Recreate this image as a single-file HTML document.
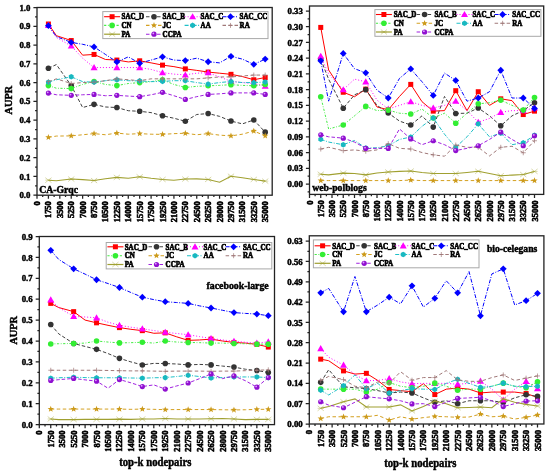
<!DOCTYPE html>
<html><head><meta charset="utf-8"><style>
html,body{margin:0;padding:0;background:#fff;width:550px;height:473px;overflow:hidden}
svg{display:block;will-change:transform}
text{font-family:"Liberation Serif", serif;font-weight:bold;fill:#000;stroke:#000;stroke-width:0.45px}
</style></head><body>
<svg width="550" height="473" viewBox="0 0 550 473">
<rect width="550" height="473" fill="#fff"/>
<polyline points="48.41,24.02 56.40,35.66 71.23,40.54 82.64,55.18 94.05,54.43 105.46,59.49 116.87,60.06 128.28,61.93 139.69,60.81 151.10,62.87 162.51,65.12 173.92,66.63 185.33,68.88 196.74,70.38 208.15,72.07 219.56,73.19 230.97,74.32 242.38,76.57 253.79,79.76 265.20,77.51" fill="none" stroke="#ff0000" stroke-width="1"/>
<rect x="45.91" y="21.52" width="5.00" height="5.00" fill="#ff0000"/>
<rect x="68.73" y="38.04" width="5.00" height="5.00" fill="#ff0000"/>
<rect x="91.55" y="51.93" width="5.00" height="5.00" fill="#ff0000"/>
<rect x="114.37" y="57.56" width="5.00" height="5.00" fill="#ff0000"/>
<rect x="137.19" y="58.31" width="5.00" height="5.00" fill="#ff0000"/>
<rect x="160.01" y="62.62" width="5.00" height="5.00" fill="#ff0000"/>
<rect x="182.83" y="66.38" width="5.00" height="5.00" fill="#ff0000"/>
<rect x="205.65" y="69.57" width="5.00" height="5.00" fill="#ff0000"/>
<rect x="228.47" y="71.82" width="5.00" height="5.00" fill="#ff0000"/>
<rect x="251.29" y="77.26" width="5.00" height="5.00" fill="#ff0000"/>
<rect x="262.70" y="75.01" width="5.00" height="5.00" fill="#ff0000"/>
<polyline points="48.41,68.31 56.40,64.56 71.23,85.58 82.64,107.54 94.05,104.35 105.46,106.98 116.87,107.54 128.28,110.73 139.69,111.30 151.10,112.61 162.51,115.80 173.92,118.24 185.33,121.25 196.74,114.49 208.15,113.55 219.56,116.37 230.97,121.06 242.38,123.87 253.79,119.93 265.20,132.13" fill="none" stroke="#404040" stroke-width="1" stroke-dasharray="3.5 2"/>
<circle cx="48.41" cy="68.31" r="2.80" fill="#333333"/>
<circle cx="71.23" cy="85.58" r="2.80" fill="#333333"/>
<circle cx="94.05" cy="104.35" r="2.80" fill="#333333"/>
<circle cx="116.87" cy="107.54" r="2.80" fill="#333333"/>
<circle cx="139.69" cy="111.30" r="2.80" fill="#333333"/>
<circle cx="162.51" cy="115.80" r="2.80" fill="#333333"/>
<circle cx="185.33" cy="121.25" r="2.80" fill="#333333"/>
<circle cx="208.15" cy="113.55" r="2.80" fill="#333333"/>
<circle cx="230.97" cy="121.06" r="2.80" fill="#333333"/>
<circle cx="253.79" cy="119.93" r="2.80" fill="#333333"/>
<circle cx="265.20" cy="132.13" r="2.80" fill="#333333"/>
<polyline points="48.41,25.33 56.40,37.53 71.23,45.98 82.64,58.18 94.05,67.56 105.46,67.56 116.87,67.56 128.28,67.56 139.69,67.56 151.10,69.44 162.51,72.63 173.92,74.13 185.33,74.88 196.74,73.19 208.15,72.63 219.56,76.95 230.97,81.27 242.38,82.58 253.79,83.52 265.20,86.15" fill="none" stroke="#ff00ff" stroke-width="1" stroke-dasharray="1 2"/>
<path d="M48.41 21.83L51.91 27.96L44.91 27.96Z" fill="#ff00ff"/>
<path d="M71.23 42.48L74.73 48.60L67.73 48.60Z" fill="#ff00ff"/>
<path d="M94.05 64.06L97.55 70.19L90.55 70.19Z" fill="#ff00ff"/>
<path d="M116.87 64.06L120.37 70.19L113.37 70.19Z" fill="#ff00ff"/>
<path d="M139.69 64.06L143.19 70.19L136.19 70.19Z" fill="#ff00ff"/>
<path d="M162.51 69.13L166.01 75.26L159.01 75.26Z" fill="#ff00ff"/>
<path d="M185.33 71.38L188.83 77.51L181.83 77.51Z" fill="#ff00ff"/>
<path d="M208.15 69.13L211.65 75.26L204.65 75.26Z" fill="#ff00ff"/>
<path d="M230.97 77.77L234.47 83.89L227.47 83.89Z" fill="#ff00ff"/>
<path d="M253.79 80.02L257.29 86.14L250.29 86.14Z" fill="#ff00ff"/>
<path d="M265.20 82.65L268.70 88.77L261.70 88.77Z" fill="#ff00ff"/>
<polyline points="48.41,25.71 56.40,36.59 71.23,42.41 82.64,44.29 94.05,46.92 105.46,54.43 116.87,61.93 128.28,56.87 139.69,63.25 151.10,60.06 162.51,56.87 173.92,60.06 185.33,60.62 196.74,58.18 208.15,61.75 219.56,62.87 230.97,56.30 242.38,59.12 253.79,64.37 265.20,59.12" fill="none" stroke="#0000ff" stroke-width="1" stroke-dasharray="4 1.5 1 1.5"/>
<path d="M48.41 22.31L51.81 25.71L48.41 29.11L45.01 25.71Z" fill="#0000ff"/>
<path d="M71.23 39.01L74.63 42.41L71.23 45.81L67.83 42.41Z" fill="#0000ff"/>
<path d="M94.05 43.52L97.45 46.92L94.05 50.32L90.65 46.92Z" fill="#0000ff"/>
<path d="M116.87 58.53L120.27 61.93L116.87 65.33L113.47 61.93Z" fill="#0000ff"/>
<path d="M139.69 59.85L143.09 63.25L139.69 66.65L136.29 63.25Z" fill="#0000ff"/>
<path d="M162.51 53.47L165.91 56.87L162.51 60.27L159.11 56.87Z" fill="#0000ff"/>
<path d="M185.33 57.22L188.73 60.62L185.33 64.02L181.93 60.62Z" fill="#0000ff"/>
<path d="M208.15 58.35L211.55 61.75L208.15 65.15L204.75 61.75Z" fill="#0000ff"/>
<path d="M230.97 52.90L234.37 56.30L230.97 59.70L227.57 56.30Z" fill="#0000ff"/>
<path d="M253.79 60.97L257.19 64.37L253.79 67.77L250.39 64.37Z" fill="#0000ff"/>
<path d="M265.20 55.72L268.60 59.12L265.20 62.52L261.80 59.12Z" fill="#0000ff"/>
<polyline points="48.41,85.58 56.40,88.21 71.23,88.59 82.64,84.46 94.05,81.45 105.46,84.46 116.87,85.58 128.28,83.52 139.69,82.58 151.10,81.64 162.51,79.76 173.92,84.46 185.33,87.46 196.74,86.33 208.15,85.77 219.56,85.40 230.97,84.64 242.38,85.40 253.79,85.77 265.20,84.46" fill="none" stroke="#44ee44" stroke-width="1" stroke-dasharray="2.2 1.6 0.8 1.6"/>
<circle cx="48.41" cy="85.58" r="2.80" fill="#33ee33"/>
<circle cx="71.23" cy="88.59" r="2.80" fill="#33ee33"/>
<circle cx="94.05" cy="81.45" r="2.80" fill="#33ee33"/>
<circle cx="116.87" cy="85.58" r="2.80" fill="#33ee33"/>
<circle cx="139.69" cy="82.58" r="2.80" fill="#33ee33"/>
<circle cx="162.51" cy="79.76" r="2.80" fill="#33ee33"/>
<circle cx="185.33" cy="87.46" r="2.80" fill="#33ee33"/>
<circle cx="208.15" cy="85.77" r="2.80" fill="#33ee33"/>
<circle cx="230.97" cy="84.64" r="2.80" fill="#33ee33"/>
<circle cx="253.79" cy="85.77" r="2.80" fill="#33ee33"/>
<circle cx="265.20" cy="84.46" r="2.80" fill="#33ee33"/>
<polyline points="48.41,137.39 56.40,136.07 71.23,135.89 82.64,134.76 94.05,133.63 105.46,134.76 116.87,133.07 128.28,134.20 139.69,133.63 151.10,134.20 162.51,134.39 173.92,133.63 185.33,133.26 196.74,134.76 208.15,133.63 219.56,135.14 230.97,135.89 242.38,134.20 253.79,131.01 265.20,135.89" fill="none" stroke="#d4a020" stroke-width="1" stroke-dasharray="3.5 2.5"/>
<polygon points="48.41,134.09 49.23,136.26 51.55,136.37 49.74,137.82 50.35,140.06 48.41,138.79 46.47,140.06 47.08,137.82 45.27,136.37 47.59,136.26" fill="#cc9a1a"/>
<polygon points="71.23,132.59 72.05,134.75 74.37,134.87 72.56,136.32 73.17,138.56 71.23,137.29 69.29,138.56 69.90,136.32 68.09,134.87 70.41,134.75" fill="#cc9a1a"/>
<polygon points="94.05,130.33 94.87,132.50 97.19,132.61 95.38,134.07 95.99,136.30 94.05,135.03 92.11,136.30 92.72,134.07 90.91,132.61 93.23,132.50" fill="#cc9a1a"/>
<polygon points="116.87,129.77 117.69,131.94 120.01,132.05 118.20,133.50 118.81,135.74 116.87,134.47 114.93,135.74 115.54,133.50 113.73,132.05 116.05,131.94" fill="#cc9a1a"/>
<polygon points="139.69,130.33 140.51,132.50 142.83,132.61 141.02,134.07 141.63,136.30 139.69,135.03 137.75,136.30 138.36,134.07 136.55,132.61 138.87,132.50" fill="#cc9a1a"/>
<polygon points="162.51,131.09 163.33,133.25 165.65,133.37 163.84,134.82 164.45,137.05 162.51,135.79 160.57,137.05 161.18,134.82 159.37,133.37 161.69,133.25" fill="#cc9a1a"/>
<polygon points="185.33,129.96 186.15,132.13 188.47,132.24 186.66,133.69 187.27,135.93 185.33,134.66 183.39,135.93 184.00,133.69 182.19,132.24 184.51,132.13" fill="#cc9a1a"/>
<polygon points="208.15,130.33 208.97,132.50 211.29,132.61 209.48,134.07 210.09,136.30 208.15,135.03 206.21,136.30 206.82,134.07 205.01,132.61 207.33,132.50" fill="#cc9a1a"/>
<polygon points="230.97,132.59 231.79,134.75 234.11,134.87 232.30,136.32 232.91,138.56 230.97,137.29 229.03,138.56 229.64,136.32 227.83,134.87 230.15,134.75" fill="#cc9a1a"/>
<polygon points="253.79,127.71 254.61,129.87 256.93,129.99 255.12,131.44 255.73,133.68 253.79,132.41 251.85,133.68 252.46,131.44 250.65,129.99 252.97,129.87" fill="#cc9a1a"/>
<polygon points="265.20,132.59 266.02,134.75 268.34,134.87 266.53,136.32 267.14,138.56 265.20,137.29 263.26,138.56 263.87,136.32 262.06,134.87 264.38,134.75" fill="#cc9a1a"/>
<polyline points="48.41,82.20 56.40,79.76 71.23,76.76 82.64,81.64 94.05,82.20 105.46,80.70 116.87,79.76 128.28,80.70 139.69,80.89 151.10,81.64 162.51,81.45 173.92,80.70 185.33,80.70 196.74,82.58 208.15,84.08 219.56,82.58 230.97,81.45 242.38,82.58 253.79,82.58 265.20,82.02" fill="none" stroke="#1ec0c8" stroke-width="1" stroke-dasharray="4 1.5 1 1.5"/>
<polygon points="48.41,79.40 50.83,80.80 50.83,83.60 48.41,85.00 45.99,83.60 45.99,80.80" fill="#18b8c0"/>
<polygon points="71.23,73.96 73.65,75.36 73.65,78.16 71.23,79.56 68.81,78.16 68.81,75.36" fill="#18b8c0"/>
<polygon points="94.05,79.40 96.47,80.80 96.47,83.60 94.05,85.00 91.63,83.60 91.63,80.80" fill="#18b8c0"/>
<polygon points="116.87,76.96 119.29,78.36 119.29,81.16 116.87,82.56 114.45,81.16 114.45,78.36" fill="#18b8c0"/>
<polygon points="139.69,78.09 142.11,79.49 142.11,82.29 139.69,83.69 137.27,82.29 137.27,79.49" fill="#18b8c0"/>
<polygon points="162.51,78.65 164.93,80.05 164.93,82.85 162.51,84.25 160.09,82.85 160.09,80.05" fill="#18b8c0"/>
<polygon points="185.33,77.90 187.75,79.30 187.75,82.10 185.33,83.50 182.91,82.10 182.91,79.30" fill="#18b8c0"/>
<polygon points="208.15,81.28 210.57,82.68 210.57,85.48 208.15,86.88 205.73,85.48 205.73,82.68" fill="#18b8c0"/>
<polygon points="230.97,78.65 233.39,80.05 233.39,82.85 230.97,84.25 228.55,82.85 228.55,80.05" fill="#18b8c0"/>
<polygon points="253.79,79.78 256.21,81.18 256.21,83.98 253.79,85.38 251.37,83.98 251.37,81.18" fill="#18b8c0"/>
<polygon points="265.20,79.22 267.62,80.62 267.62,83.42 265.20,84.82 262.78,83.42 262.78,80.62" fill="#18b8c0"/>
<polyline points="48.41,81.64 56.40,78.83 71.23,83.52 82.64,82.58 94.05,82.20 105.46,80.70 116.87,78.83 128.28,79.76 139.69,80.70 151.10,78.83 162.51,78.83 173.92,78.83 185.33,78.83 196.74,78.83 208.15,77.89 219.56,76.95 230.97,76.95 242.38,76.01 253.79,75.07 265.20,75.07" fill="none" stroke="#a07878" stroke-width="1" stroke-dasharray="3.5 2.5"/>
<path d="M45.91 81.64H50.91M48.41 79.14V84.14" stroke="#a07878" stroke-width="0.7" fill="none"/>
<path d="M68.73 83.52H73.73M71.23 81.02V86.02" stroke="#a07878" stroke-width="0.7" fill="none"/>
<path d="M91.55 82.20H96.55M94.05 79.70V84.70" stroke="#a07878" stroke-width="0.7" fill="none"/>
<path d="M114.37 78.83H119.37M116.87 76.33V81.33" stroke="#a07878" stroke-width="0.7" fill="none"/>
<path d="M137.19 80.70H142.19M139.69 78.20V83.20" stroke="#a07878" stroke-width="0.7" fill="none"/>
<path d="M160.01 78.83H165.01M162.51 76.33V81.33" stroke="#a07878" stroke-width="0.7" fill="none"/>
<path d="M182.83 78.83H187.83M185.33 76.33V81.33" stroke="#a07878" stroke-width="0.7" fill="none"/>
<path d="M205.65 77.89H210.65M208.15 75.39V80.39" stroke="#a07878" stroke-width="0.7" fill="none"/>
<path d="M228.47 76.95H233.47M230.97 74.45V79.45" stroke="#a07878" stroke-width="0.7" fill="none"/>
<path d="M251.29 75.07H256.29M253.79 72.57V77.57" stroke="#a07878" stroke-width="0.7" fill="none"/>
<path d="M262.70 75.07H267.70M265.20 72.57V77.57" stroke="#a07878" stroke-width="0.7" fill="none"/>
<polyline points="48.41,180.18 56.40,180.75 71.23,179.06 82.64,179.62 94.05,180.56 105.46,178.68 116.87,177.37 128.28,178.31 139.69,176.81 151.10,178.31 162.51,179.43 173.92,180.18 185.33,179.06 196.74,178.87 208.15,179.43 219.56,182.25 230.97,176.24 242.38,177.74 253.79,179.43 265.20,181.12" fill="none" stroke="#a0a030" stroke-width="1.1"/>
<path d="M45.31 177.70L51.51 182.66M45.31 182.66L51.51 177.70M45.31 180.18H51.51" stroke="#a0a030" stroke-width="0.6" fill="none" opacity="0.7"/>
<path d="M68.13 176.58L74.33 181.54M68.13 181.54L74.33 176.58M68.13 179.06H74.33" stroke="#a0a030" stroke-width="0.6" fill="none" opacity="0.7"/>
<path d="M90.95 178.08L97.15 183.04M90.95 183.04L97.15 178.08M90.95 180.56H97.15" stroke="#a0a030" stroke-width="0.6" fill="none" opacity="0.7"/>
<path d="M113.77 174.89L119.97 179.85M113.77 179.85L119.97 174.89M113.77 177.37H119.97" stroke="#a0a030" stroke-width="0.6" fill="none" opacity="0.7"/>
<path d="M136.59 174.33L142.79 179.29M136.59 179.29L142.79 174.33M136.59 176.81H142.79" stroke="#a0a030" stroke-width="0.6" fill="none" opacity="0.7"/>
<path d="M159.41 176.95L165.61 181.91M159.41 181.91L165.61 176.95M159.41 179.43H165.61" stroke="#a0a030" stroke-width="0.6" fill="none" opacity="0.7"/>
<path d="M182.23 176.58L188.43 181.54M182.23 181.54L188.43 176.58M182.23 179.06H188.43" stroke="#a0a030" stroke-width="0.6" fill="none" opacity="0.7"/>
<path d="M205.05 176.95L211.25 181.91M205.05 181.91L211.25 176.95M205.05 179.43H211.25" stroke="#a0a030" stroke-width="0.6" fill="none" opacity="0.7"/>
<path d="M227.87 173.76L234.07 178.72M227.87 178.72L234.07 173.76M227.87 176.24H234.07" stroke="#a0a030" stroke-width="0.6" fill="none" opacity="0.7"/>
<path d="M250.69 176.95L256.89 181.91M250.69 181.91L256.89 176.95M250.69 179.43H256.89" stroke="#a0a030" stroke-width="0.6" fill="none" opacity="0.7"/>
<path d="M262.10 178.64L268.30 183.60M262.10 183.60L268.30 178.64M262.10 181.12H268.30" stroke="#a0a030" stroke-width="0.6" fill="none" opacity="0.7"/>
<polyline points="48.41,93.09 56.40,94.78 71.23,95.34 82.64,94.78 94.05,94.41 105.46,95.72 116.87,95.34 128.28,96.09 139.69,96.66 151.10,94.78 162.51,92.34 173.92,95.72 185.33,99.47 196.74,96.66 208.15,94.41 219.56,93.84 230.97,92.90 242.38,92.90 253.79,92.90 265.20,94.41" fill="none" stroke="#a020e0" stroke-width="1" stroke-dasharray="3.5 2"/>
<circle cx="48.41" cy="93.09" r="2.60" fill="#9010d0"/><circle cx="47.71" cy="92.29" r="0.90" fill="#e0a0ff"/>
<circle cx="71.23" cy="95.34" r="2.60" fill="#9010d0"/><circle cx="70.53" cy="94.54" r="0.90" fill="#e0a0ff"/>
<circle cx="94.05" cy="94.41" r="2.60" fill="#9010d0"/><circle cx="93.35" cy="93.61" r="0.90" fill="#e0a0ff"/>
<circle cx="116.87" cy="95.34" r="2.60" fill="#9010d0"/><circle cx="116.17" cy="94.54" r="0.90" fill="#e0a0ff"/>
<circle cx="139.69" cy="96.66" r="2.60" fill="#9010d0"/><circle cx="138.99" cy="95.86" r="0.90" fill="#e0a0ff"/>
<circle cx="162.51" cy="92.34" r="2.60" fill="#9010d0"/><circle cx="161.81" cy="91.54" r="0.90" fill="#e0a0ff"/>
<circle cx="185.33" cy="99.47" r="2.60" fill="#9010d0"/><circle cx="184.63" cy="98.67" r="0.90" fill="#e0a0ff"/>
<circle cx="208.15" cy="94.41" r="2.60" fill="#9010d0"/><circle cx="207.45" cy="93.61" r="0.90" fill="#e0a0ff"/>
<circle cx="230.97" cy="92.90" r="2.60" fill="#9010d0"/><circle cx="230.27" cy="92.10" r="0.90" fill="#e0a0ff"/>
<circle cx="253.79" cy="92.90" r="2.60" fill="#9010d0"/><circle cx="253.09" cy="92.10" r="0.90" fill="#e0a0ff"/>
<circle cx="265.20" cy="94.41" r="2.60" fill="#9010d0"/><circle cx="264.50" cy="93.61" r="0.90" fill="#e0a0ff"/>
<rect x="37" y="7.5" width="235.2" height="187.7" fill="none" stroke="#222222" stroke-width="1.3"/>
<path d="M37.00 195.20V198.80M42.70 195.20V197.10M48.41 195.20V198.80M54.11 195.20V197.10M59.82 195.20V198.80M65.53 195.20V197.10M71.23 195.20V198.80M76.94 195.20V197.10M82.64 195.20V198.80M88.34 195.20V197.10M94.05 195.20V198.80M99.75 195.20V197.10M105.46 195.20V198.80M111.17 195.20V197.10M116.87 195.20V198.80M122.58 195.20V197.10M128.28 195.20V198.80M133.99 195.20V197.10M139.69 195.20V198.80M145.40 195.20V197.10M151.10 195.20V198.80M156.81 195.20V197.10M162.51 195.20V198.80M168.22 195.20V197.10M173.92 195.20V198.80M179.63 195.20V197.10M185.33 195.20V198.80M191.04 195.20V197.10M196.74 195.20V198.80M202.45 195.20V197.10M208.15 195.20V198.80M213.86 195.20V197.10M219.56 195.20V198.80M225.27 195.20V197.10M230.97 195.20V198.80M236.68 195.20V197.10M242.38 195.20V198.80M248.09 195.20V197.10M253.79 195.20V198.80M259.50 195.20V197.10M265.20 195.20V198.80M37.00 195.20H33.40M37.00 185.81H35.10M37.00 176.43H33.40M37.00 167.04H35.10M37.00 157.66H33.40M37.00 148.27H35.10M37.00 138.89H33.40M37.00 129.50H35.10M37.00 120.12H33.40M37.00 110.73H35.10M37.00 101.35H33.40M37.00 91.96H35.10M37.00 82.58H33.40M37.00 73.19H35.10M37.00 63.81H33.40M37.00 54.43H35.10M37.00 45.04H33.40M37.00 35.65H35.10M37.00 26.27H33.40M37.00 16.88H35.10M37.00 7.50H33.40" stroke="#222222" stroke-width="1.25" fill="none"/>
<text x="30.40" y="198.30" font-size="8.8" text-anchor="end" >0.0</text>
<text x="30.40" y="179.53" font-size="8.8" text-anchor="end" >0.1</text>
<text x="30.40" y="160.76" font-size="8.8" text-anchor="end" >0.2</text>
<text x="30.40" y="141.99" font-size="8.8" text-anchor="end" >0.3</text>
<text x="30.40" y="123.22" font-size="8.8" text-anchor="end" >0.4</text>
<text x="30.40" y="104.45" font-size="8.8" text-anchor="end" >0.5</text>
<text x="30.40" y="85.68" font-size="8.8" text-anchor="end" >0.6</text>
<text x="30.40" y="66.91" font-size="8.8" text-anchor="end" >0.7</text>
<text x="30.40" y="48.14" font-size="8.8" text-anchor="end" >0.8</text>
<text x="30.40" y="29.37" font-size="8.8" text-anchor="end" >0.9</text>
<text x="30.40" y="10.60" font-size="8.8" text-anchor="end" >1.0</text>
<text transform="translate(40.00,201.20) rotate(-90) scale(0.93,1)" style="stroke-width:0.6px" font-size="9.1" text-anchor="end">0</text>
<text transform="translate(51.41,201.20) rotate(-90) scale(0.93,1)" style="stroke-width:0.6px" font-size="9.1" text-anchor="end">1750</text>
<text transform="translate(62.82,201.20) rotate(-90) scale(0.93,1)" style="stroke-width:0.6px" font-size="9.1" text-anchor="end">3500</text>
<text transform="translate(74.23,201.20) rotate(-90) scale(0.93,1)" style="stroke-width:0.6px" font-size="9.1" text-anchor="end">5250</text>
<text transform="translate(85.64,201.20) rotate(-90) scale(0.93,1)" style="stroke-width:0.6px" font-size="9.1" text-anchor="end">7000</text>
<text transform="translate(97.05,201.20) rotate(-90) scale(0.93,1)" style="stroke-width:0.6px" font-size="9.1" text-anchor="end">8750</text>
<text transform="translate(108.46,201.20) rotate(-90) scale(0.93,1)" style="stroke-width:0.6px" font-size="9.1" text-anchor="end">10500</text>
<text transform="translate(119.87,201.20) rotate(-90) scale(0.93,1)" style="stroke-width:0.6px" font-size="9.1" text-anchor="end">12250</text>
<text transform="translate(131.28,201.20) rotate(-90) scale(0.93,1)" style="stroke-width:0.6px" font-size="9.1" text-anchor="end">14000</text>
<text transform="translate(142.69,201.20) rotate(-90) scale(0.93,1)" style="stroke-width:0.6px" font-size="9.1" text-anchor="end">15750</text>
<text transform="translate(154.10,201.20) rotate(-90) scale(0.93,1)" style="stroke-width:0.6px" font-size="9.1" text-anchor="end">17500</text>
<text transform="translate(165.51,201.20) rotate(-90) scale(0.93,1)" style="stroke-width:0.6px" font-size="9.1" text-anchor="end">19250</text>
<text transform="translate(176.92,201.20) rotate(-90) scale(0.93,1)" style="stroke-width:0.6px" font-size="9.1" text-anchor="end">21000</text>
<text transform="translate(188.33,201.20) rotate(-90) scale(0.93,1)" style="stroke-width:0.6px" font-size="9.1" text-anchor="end">22750</text>
<text transform="translate(199.74,201.20) rotate(-90) scale(0.93,1)" style="stroke-width:0.6px" font-size="9.1" text-anchor="end">24500</text>
<text transform="translate(211.15,201.20) rotate(-90) scale(0.93,1)" style="stroke-width:0.6px" font-size="9.1" text-anchor="end">26250</text>
<text transform="translate(222.56,201.20) rotate(-90) scale(0.93,1)" style="stroke-width:0.6px" font-size="9.1" text-anchor="end">28000</text>
<text transform="translate(233.97,201.20) rotate(-90) scale(0.93,1)" style="stroke-width:0.6px" font-size="9.1" text-anchor="end">29750</text>
<text transform="translate(245.38,201.20) rotate(-90) scale(0.93,1)" style="stroke-width:0.6px" font-size="9.1" text-anchor="end">31500</text>
<text transform="translate(256.79,201.20) rotate(-90) scale(0.93,1)" style="stroke-width:0.6px" font-size="9.1" text-anchor="end">33250</text>
<text transform="translate(268.20,201.20) rotate(-90) scale(0.93,1)" style="stroke-width:0.6px" font-size="9.1" text-anchor="end">35000</text>
<rect x="102.8" y="11.6" width="165.2" height="27.0" fill="#ffffff" stroke="#a8a8a8" stroke-width="1"/>
<path d="M104.10 16.70H120.10" stroke="#ff0000" stroke-width="1.10"/>
<rect x="109.60" y="14.20" width="5.00" height="5.00" fill="#ff0000"/>
<text transform="translate(121.50,19.40) scale(0.88,1)" style="stroke-width:0.7px" font-size="8.0">SAC_D</text>
<path d="M146.00 16.70H162.00" stroke="#404040" stroke-width="1.10" stroke-dasharray="3.5 2"/>
<circle cx="154.00" cy="16.70" r="2.80" fill="#333333"/>
<text transform="translate(162.60,19.40) scale(0.88,1)" style="stroke-width:0.7px" font-size="8.0">SAC_B</text>
<path d="M184.60 16.70H200.60" stroke="#ff00ff" stroke-width="1.10" stroke-dasharray="1 2"/>
<path d="M192.60 13.20L196.10 19.32L189.10 19.32Z" fill="#ff00ff"/>
<text transform="translate(200.60,19.40) scale(0.88,1)" style="stroke-width:0.7px" font-size="8.0">SAC_C</text>
<path d="M222.50 16.70H238.50" stroke="#0000ff" stroke-width="1.10" stroke-dasharray="4 1.5 1 1.5"/>
<path d="M230.50 13.30L233.90 16.70L230.50 20.10L227.10 16.70Z" fill="#0000ff"/>
<text transform="translate(239.60,19.40) scale(0.88,1)" style="stroke-width:0.7px" font-size="8.0">SAC_CC</text>
<path d="M104.10 25.40H120.10" stroke="#44ee44" stroke-width="1.10" stroke-dasharray="2.2 1.6 0.8 1.6"/>
<circle cx="112.10" cy="25.40" r="2.80" fill="#33ee33"/>
<text transform="translate(121.50,28.10) scale(0.88,1)" style="stroke-width:0.7px" font-size="8.0">CN</text>
<path d="M146.00 25.40H162.00" stroke="#d4a020" stroke-width="1.10" stroke-dasharray="3.5 2.5"/>
<polygon points="154.00,22.10 154.82,24.27 157.14,24.38 155.33,25.83 155.94,28.07 154.00,26.80 152.06,28.07 152.67,25.83 150.86,24.38 153.18,24.27" fill="#cc9a1a"/>
<text transform="translate(162.60,28.10) scale(0.88,1)" style="stroke-width:0.7px" font-size="8.0">JC</text>
<path d="M184.60 25.40H200.60" stroke="#1ec0c8" stroke-width="1.10" stroke-dasharray="4 1.5 1 1.5"/>
<polygon points="192.60,22.60 195.02,24.00 195.02,26.80 192.60,28.20 190.18,26.80 190.18,24.00" fill="#18b8c0"/>
<text transform="translate(200.60,28.10) scale(0.88,1)" style="stroke-width:0.7px" font-size="8.0">AA</text>
<path d="M222.50 25.40H238.50" stroke="#a07878" stroke-width="1.10" stroke-dasharray="3.5 2.5"/>
<path d="M228.00 25.40H233.00M230.50 22.90V27.90" stroke="#a07878" stroke-width="0.7" fill="none"/>
<text transform="translate(239.60,28.10) scale(0.88,1)" style="stroke-width:0.7px" font-size="8.0">RA</text>
<path d="M104.10 34.20H120.10" stroke="#a0a030" stroke-width="1.21"/>
<path d="M109.00 31.72L115.20 36.68M109.00 36.68L115.20 31.72M109.00 34.20H115.20" stroke="#a0a030" stroke-width="0.6" fill="none" opacity="0.7"/>
<text transform="translate(121.50,36.90) scale(0.88,1)" style="stroke-width:0.7px" font-size="8.0">PA</text>
<path d="M146.00 34.20H162.00" stroke="#a020e0" stroke-width="1.10" stroke-dasharray="3.5 2"/>
<circle cx="154.00" cy="34.20" r="2.60" fill="#9010d0"/><circle cx="153.30" cy="33.40" r="0.90" fill="#e0a0ff"/>
<text transform="translate(162.60,36.90) scale(0.88,1)" style="stroke-width:0.7px" font-size="8.0">CCPA</text>
<text x="39.20" y="193.30" font-size="9.75" text-anchor="start" >CA-Grqc</text>
<text transform="translate(12.00,100.10) rotate(-90)" font-size="10.3" text-anchor="middle">AUPR</text>
<polyline points="320.75,27.41 328.62,69.98 343.25,92.26 354.50,96.71 365.75,89.11 377.00,106.94 388.25,109.82 399.50,96.45 410.75,84.39 422.00,101.69 433.25,111.13 444.50,110.61 455.75,90.69 467.00,110.61 478.25,91.73 489.50,105.36 500.75,98.81 512.00,100.65 523.25,114.54 534.50,111.13" fill="none" stroke="#ff0000" stroke-width="1"/>
<rect x="318.25" y="24.91" width="5.00" height="5.00" fill="#ff0000"/>
<rect x="340.75" y="89.76" width="5.00" height="5.00" fill="#ff0000"/>
<rect x="363.25" y="86.61" width="5.00" height="5.00" fill="#ff0000"/>
<rect x="385.75" y="107.32" width="5.00" height="5.00" fill="#ff0000"/>
<rect x="408.25" y="81.89" width="5.00" height="5.00" fill="#ff0000"/>
<rect x="430.75" y="108.63" width="5.00" height="5.00" fill="#ff0000"/>
<rect x="453.25" y="88.19" width="5.00" height="5.00" fill="#ff0000"/>
<rect x="475.75" y="89.23" width="5.00" height="5.00" fill="#ff0000"/>
<rect x="498.25" y="96.31" width="5.00" height="5.00" fill="#ff0000"/>
<rect x="520.75" y="112.04" width="5.00" height="5.00" fill="#ff0000"/>
<rect x="532.00" y="108.63" width="5.00" height="5.00" fill="#ff0000"/>
<polyline points="320.75,59.23 328.62,79.15 343.25,108.19 354.50,94.88 365.75,89.64 377.00,105.36 388.25,113.02 399.50,121.09 410.75,125.02 422.00,115.85 433.25,127.12 444.50,96.45 455.75,113.44 467.00,113.23 478.25,107.98 489.50,115.85 500.75,125.81 512.00,115.85 523.25,110.61 534.50,102.74" fill="none" stroke="#404040" stroke-width="1" stroke-dasharray="3.5 2"/>
<circle cx="320.75" cy="59.23" r="2.80" fill="#333333"/>
<circle cx="343.25" cy="108.19" r="2.80" fill="#333333"/>
<circle cx="365.75" cy="89.64" r="2.80" fill="#333333"/>
<circle cx="388.25" cy="113.02" r="2.80" fill="#333333"/>
<circle cx="410.75" cy="125.02" r="2.80" fill="#333333"/>
<circle cx="433.25" cy="127.12" r="2.80" fill="#333333"/>
<circle cx="455.75" cy="113.44" r="2.80" fill="#333333"/>
<circle cx="478.25" cy="107.98" r="2.80" fill="#333333"/>
<circle cx="500.75" cy="125.81" r="2.80" fill="#333333"/>
<circle cx="523.25" cy="110.61" r="2.80" fill="#333333"/>
<circle cx="534.50" cy="102.74" r="2.80" fill="#333333"/>
<polyline points="320.75,56.24 328.62,73.91 343.25,89.64 354.50,79.15 365.75,81.77 377.00,100.12 388.25,109.03 399.50,105.36 410.75,101.69 422.00,105.36 433.25,107.98 444.50,105.36 455.75,101.17 467.00,110.61 478.25,122.14 489.50,118.47 500.75,112.34 512.00,110.61 523.25,110.61 534.50,107.98" fill="none" stroke="#ff00ff" stroke-width="1" stroke-dasharray="1 2"/>
<path d="M320.75 52.74L324.25 58.87L317.25 58.87Z" fill="#ff00ff"/>
<path d="M343.25 86.14L346.75 92.26L339.75 92.26Z" fill="#ff00ff"/>
<path d="M365.75 78.27L369.25 84.40L362.25 84.40Z" fill="#ff00ff"/>
<path d="M388.25 105.53L391.75 111.66L384.75 111.66Z" fill="#ff00ff"/>
<path d="M410.75 98.19L414.25 104.32L407.25 104.32Z" fill="#ff00ff"/>
<path d="M433.25 104.48L436.75 110.61L429.75 110.61Z" fill="#ff00ff"/>
<path d="M455.75 97.67L459.25 103.79L452.25 103.79Z" fill="#ff00ff"/>
<path d="M478.25 118.64L481.75 124.76L474.75 124.76Z" fill="#ff00ff"/>
<path d="M500.75 108.84L504.25 114.96L497.25 114.96Z" fill="#ff00ff"/>
<path d="M523.25 107.11L526.75 113.23L519.75 113.23Z" fill="#ff00ff"/>
<path d="M534.50 104.48L538.00 110.61L531.00 110.61Z" fill="#ff00ff"/>
<polyline points="320.75,60.80 328.62,101.17 343.25,53.46 354.50,68.67 365.75,72.86 377.00,90.16 388.25,98.02 399.50,78.37 410.75,68.88 422.00,81.77 433.25,95.40 444.50,73.07 455.75,80.46 467.00,101.17 478.25,98.02 489.50,91.73 500.75,70.24 512.00,98.02 523.25,98.02 534.50,108.51" fill="none" stroke="#0000ff" stroke-width="1" stroke-dasharray="4 1.5 1 1.5"/>
<path d="M320.75 57.40L324.15 60.80L320.75 64.20L317.35 60.80Z" fill="#0000ff"/>
<path d="M343.25 50.06L346.65 53.46L343.25 56.86L339.85 53.46Z" fill="#0000ff"/>
<path d="M365.75 69.46L369.15 72.86L365.75 76.26L362.35 72.86Z" fill="#0000ff"/>
<path d="M388.25 94.62L391.65 98.02L388.25 101.42L384.85 98.02Z" fill="#0000ff"/>
<path d="M410.75 65.48L414.15 68.88L410.75 72.28L407.35 68.88Z" fill="#0000ff"/>
<path d="M433.25 92.00L436.65 95.40L433.25 98.80L429.85 95.40Z" fill="#0000ff"/>
<path d="M455.75 77.06L459.15 80.46L455.75 83.86L452.35 80.46Z" fill="#0000ff"/>
<path d="M478.25 94.62L481.65 98.02L478.25 101.42L474.85 98.02Z" fill="#0000ff"/>
<path d="M500.75 66.84L504.15 70.24L500.75 73.64L497.35 70.24Z" fill="#0000ff"/>
<path d="M523.25 94.62L526.65 98.02L523.25 101.42L519.85 98.02Z" fill="#0000ff"/>
<path d="M534.50 105.11L537.90 108.51L534.50 111.91L531.10 108.51Z" fill="#0000ff"/>
<polyline points="320.75,96.71 328.62,128.95 343.25,125.02 354.50,115.85 365.75,106.41 377.00,110.61 388.25,110.08 399.50,113.23 410.75,114.01 422.00,109.03 433.25,117.95 444.50,113.23 455.75,123.19 467.00,113.23 478.25,103.79 489.50,102.74 500.75,100.12 512.00,105.36 523.25,110.08 534.50,97.50" fill="none" stroke="#44ee44" stroke-width="1" stroke-dasharray="2.2 1.6 0.8 1.6"/>
<circle cx="320.75" cy="96.71" r="2.80" fill="#33ee33"/>
<circle cx="343.25" cy="125.02" r="2.80" fill="#33ee33"/>
<circle cx="365.75" cy="106.41" r="2.80" fill="#33ee33"/>
<circle cx="388.25" cy="110.08" r="2.80" fill="#33ee33"/>
<circle cx="410.75" cy="114.01" r="2.80" fill="#33ee33"/>
<circle cx="433.25" cy="117.95" r="2.80" fill="#33ee33"/>
<circle cx="455.75" cy="123.19" r="2.80" fill="#33ee33"/>
<circle cx="478.25" cy="103.79" r="2.80" fill="#33ee33"/>
<circle cx="500.75" cy="100.12" r="2.80" fill="#33ee33"/>
<circle cx="523.25" cy="110.08" r="2.80" fill="#33ee33"/>
<circle cx="534.50" cy="97.50" r="2.80" fill="#33ee33"/>
<polyline points="320.75,180.59 328.62,180.59 343.25,180.59 354.50,180.59 365.75,180.59 377.00,180.59 388.25,180.59 399.50,180.59 410.75,180.07 422.00,180.59 433.25,180.59 444.50,180.59 455.75,180.59 467.00,180.59 478.25,180.59 489.50,180.59 500.75,180.59 512.00,180.59 523.25,180.59 534.50,180.59" fill="none" stroke="#d4a020" stroke-width="1" stroke-dasharray="3.5 2.5"/>
<polygon points="320.75,177.29 321.57,179.46 323.89,179.57 322.08,181.02 322.69,183.26 320.75,181.99 318.81,183.26 319.42,181.02 317.61,179.57 319.93,179.46" fill="#cc9a1a"/>
<polygon points="343.25,177.29 344.07,179.46 346.39,179.57 344.58,181.02 345.19,183.26 343.25,181.99 341.31,183.26 341.92,181.02 340.11,179.57 342.43,179.46" fill="#cc9a1a"/>
<polygon points="365.75,177.29 366.57,179.46 368.89,179.57 367.08,181.02 367.69,183.26 365.75,181.99 363.81,183.26 364.42,181.02 362.61,179.57 364.93,179.46" fill="#cc9a1a"/>
<polygon points="388.25,177.29 389.07,179.46 391.39,179.57 389.58,181.02 390.19,183.26 388.25,181.99 386.31,183.26 386.92,181.02 385.11,179.57 387.43,179.46" fill="#cc9a1a"/>
<polygon points="410.75,176.77 411.57,178.93 413.89,179.05 412.08,180.50 412.69,182.74 410.75,181.47 408.81,182.74 409.42,180.50 407.61,179.05 409.93,178.93" fill="#cc9a1a"/>
<polygon points="433.25,177.29 434.07,179.46 436.39,179.57 434.58,181.02 435.19,183.26 433.25,181.99 431.31,183.26 431.92,181.02 430.11,179.57 432.43,179.46" fill="#cc9a1a"/>
<polygon points="455.75,177.29 456.57,179.46 458.89,179.57 457.08,181.02 457.69,183.26 455.75,181.99 453.81,183.26 454.42,181.02 452.61,179.57 454.93,179.46" fill="#cc9a1a"/>
<polygon points="478.25,177.29 479.07,179.46 481.39,179.57 479.58,181.02 480.19,183.26 478.25,181.99 476.31,183.26 476.92,181.02 475.11,179.57 477.43,179.46" fill="#cc9a1a"/>
<polygon points="500.75,177.29 501.57,179.46 503.89,179.57 502.08,181.02 502.69,183.26 500.75,181.99 498.81,183.26 499.42,181.02 497.61,179.57 499.93,179.46" fill="#cc9a1a"/>
<polygon points="523.25,177.29 524.07,179.46 526.39,179.57 524.58,181.02 525.19,183.26 523.25,181.99 521.31,183.26 521.92,181.02 520.11,179.57 522.43,179.46" fill="#cc9a1a"/>
<polygon points="534.50,177.29 535.32,179.46 537.64,179.57 535.83,181.02 536.44,183.26 534.50,181.99 532.56,183.26 533.17,181.02 531.36,179.57 533.68,179.46" fill="#cc9a1a"/>
<polyline points="320.75,139.28 328.62,142.06 343.25,144.73 354.50,140.49 365.75,147.98 377.00,147.83 388.25,145.83 399.50,139.44 410.75,137.03 422.00,126.33 433.25,117.95 444.50,134.20 455.75,147.30 467.00,136.82 478.25,123.92 489.50,136.82 500.75,133.15 512.00,144.68 523.25,142.85 534.50,135.25" fill="none" stroke="#1ec0c8" stroke-width="1" stroke-dasharray="4 1.5 1 1.5"/>
<polygon points="320.75,136.48 323.17,137.88 323.17,140.68 320.75,142.08 318.33,140.68 318.33,137.88" fill="#18b8c0"/>
<polygon points="343.25,141.93 345.67,143.33 345.67,146.13 343.25,147.53 340.83,146.13 340.83,143.33" fill="#18b8c0"/>
<polygon points="365.75,145.18 368.17,146.58 368.17,149.38 365.75,150.78 363.33,149.38 363.33,146.58" fill="#18b8c0"/>
<polygon points="388.25,143.03 390.67,144.43 390.67,147.23 388.25,148.63 385.83,147.23 385.83,144.43" fill="#18b8c0"/>
<polygon points="410.75,134.23 413.17,135.63 413.17,138.43 410.75,139.83 408.33,138.43 408.33,135.63" fill="#18b8c0"/>
<polygon points="433.25,115.15 435.67,116.55 435.67,119.35 433.25,120.75 430.83,119.35 430.83,116.55" fill="#18b8c0"/>
<polygon points="455.75,144.50 458.17,145.90 458.17,148.70 455.75,150.10 453.33,148.70 453.33,145.90" fill="#18b8c0"/>
<polygon points="478.25,121.12 480.67,122.52 480.67,125.32 478.25,126.72 475.83,125.32 475.83,122.52" fill="#18b8c0"/>
<polygon points="500.75,130.35 503.17,131.75 503.17,134.55 500.75,135.95 498.33,134.55 498.33,131.75" fill="#18b8c0"/>
<polygon points="523.25,140.05 525.67,141.45 525.67,144.25 523.25,145.65 520.83,144.25 520.83,141.45" fill="#18b8c0"/>
<polygon points="534.50,132.45 536.92,133.85 536.92,136.65 534.50,138.05 532.08,136.65 532.08,133.85" fill="#18b8c0"/>
<polyline points="320.75,149.03 328.62,147.30 343.25,150.66 354.50,149.92 365.75,151.29 377.00,149.92 388.25,143.63 399.50,148.35 410.75,149.03 422.00,152.54 433.25,154.85 444.50,156.21 455.75,145.05 467.00,147.30 478.25,147.30 489.50,155.95 500.75,147.30 512.00,146.25 523.25,152.75 534.50,140.75" fill="none" stroke="#a07878" stroke-width="1" stroke-dasharray="3.5 2.5"/>
<path d="M318.25 149.03H323.25M320.75 146.53V151.53" stroke="#a07878" stroke-width="0.7" fill="none"/>
<path d="M340.75 150.66H345.75M343.25 148.16V153.16" stroke="#a07878" stroke-width="0.7" fill="none"/>
<path d="M363.25 151.29H368.25M365.75 148.79V153.79" stroke="#a07878" stroke-width="0.7" fill="none"/>
<path d="M385.75 143.63H390.75M388.25 141.13V146.13" stroke="#a07878" stroke-width="0.7" fill="none"/>
<path d="M408.25 149.03H413.25M410.75 146.53V151.53" stroke="#a07878" stroke-width="0.7" fill="none"/>
<path d="M430.75 154.85H435.75M433.25 152.35V157.35" stroke="#a07878" stroke-width="0.7" fill="none"/>
<path d="M453.25 145.05H458.25M455.75 142.55V147.55" stroke="#a07878" stroke-width="0.7" fill="none"/>
<path d="M475.75 147.30H480.75M478.25 144.80V149.80" stroke="#a07878" stroke-width="0.7" fill="none"/>
<path d="M498.25 147.30H503.25M500.75 144.80V149.80" stroke="#a07878" stroke-width="0.7" fill="none"/>
<path d="M520.75 152.75H525.75M523.25 150.25V155.25" stroke="#a07878" stroke-width="0.7" fill="none"/>
<path d="M532.00 140.75H537.00M534.50 138.25V143.25" stroke="#a07878" stroke-width="0.7" fill="none"/>
<polyline points="320.75,174.20 328.62,174.83 343.25,173.10 354.50,173.51 365.75,174.88 377.00,172.99 388.25,171.94 399.50,171.42 410.75,171.00 422.00,172.47 433.25,173.51 444.50,173.51 455.75,173.51 467.00,172.47 478.25,171.26 489.50,173.51 500.75,175.72 512.00,175.09 523.25,174.56 534.50,171.42" fill="none" stroke="#a0a030" stroke-width="1.1"/>
<path d="M317.65 171.72L323.85 176.68M317.65 176.68L323.85 171.72M317.65 174.20H323.85" stroke="#a0a030" stroke-width="0.6" fill="none" opacity="0.7"/>
<path d="M340.15 170.62L346.35 175.58M340.15 175.58L346.35 170.62M340.15 173.10H346.35" stroke="#a0a030" stroke-width="0.6" fill="none" opacity="0.7"/>
<path d="M362.65 172.40L368.85 177.36M362.65 177.36L368.85 172.40M362.65 174.88H368.85" stroke="#a0a030" stroke-width="0.6" fill="none" opacity="0.7"/>
<path d="M385.15 169.46L391.35 174.42M385.15 174.42L391.35 169.46M385.15 171.94H391.35" stroke="#a0a030" stroke-width="0.6" fill="none" opacity="0.7"/>
<path d="M407.65 168.52L413.85 173.48M407.65 173.48L413.85 168.52M407.65 171.00H413.85" stroke="#a0a030" stroke-width="0.6" fill="none" opacity="0.7"/>
<path d="M430.15 171.03L436.35 175.99M430.15 175.99L436.35 171.03M430.15 173.51H436.35" stroke="#a0a030" stroke-width="0.6" fill="none" opacity="0.7"/>
<path d="M452.65 171.03L458.85 175.99M452.65 175.99L458.85 171.03M452.65 173.51H458.85" stroke="#a0a030" stroke-width="0.6" fill="none" opacity="0.7"/>
<path d="M475.15 168.78L481.35 173.74M475.15 173.74L481.35 168.78M475.15 171.26H481.35" stroke="#a0a030" stroke-width="0.6" fill="none" opacity="0.7"/>
<path d="M497.65 173.24L503.85 178.20M497.65 178.20L503.85 173.24M497.65 175.72H503.85" stroke="#a0a030" stroke-width="0.6" fill="none" opacity="0.7"/>
<path d="M520.15 172.08L526.35 177.04M520.15 177.04L526.35 172.08M520.15 174.56H526.35" stroke="#a0a030" stroke-width="0.6" fill="none" opacity="0.7"/>
<path d="M531.40 168.94L537.60 173.90M531.40 173.90L537.60 168.94M531.40 171.42H537.60" stroke="#a0a030" stroke-width="0.6" fill="none" opacity="0.7"/>
<polyline points="320.75,134.83 328.62,136.82 343.25,138.13 354.50,142.06 365.75,148.46 377.00,148.35 388.25,148.46 399.50,128.95 410.75,138.91 422.00,144.68 433.25,140.75 444.50,144.68 455.75,150.55 467.00,148.35 478.25,145.73 489.50,139.44 500.75,132.10 512.00,139.44 523.25,145.73 534.50,135.77" fill="none" stroke="#a020e0" stroke-width="1" stroke-dasharray="3.5 2"/>
<circle cx="320.75" cy="134.83" r="2.60" fill="#9010d0"/><circle cx="320.05" cy="134.03" r="0.90" fill="#e0a0ff"/>
<circle cx="343.25" cy="138.13" r="2.60" fill="#9010d0"/><circle cx="342.55" cy="137.33" r="0.90" fill="#e0a0ff"/>
<circle cx="365.75" cy="148.46" r="2.60" fill="#9010d0"/><circle cx="365.05" cy="147.66" r="0.90" fill="#e0a0ff"/>
<circle cx="388.25" cy="148.46" r="2.60" fill="#9010d0"/><circle cx="387.55" cy="147.66" r="0.90" fill="#e0a0ff"/>
<circle cx="410.75" cy="138.91" r="2.60" fill="#9010d0"/><circle cx="410.05" cy="138.11" r="0.90" fill="#e0a0ff"/>
<circle cx="433.25" cy="140.75" r="2.60" fill="#9010d0"/><circle cx="432.55" cy="139.95" r="0.90" fill="#e0a0ff"/>
<circle cx="455.75" cy="150.55" r="2.60" fill="#9010d0"/><circle cx="455.05" cy="149.75" r="0.90" fill="#e0a0ff"/>
<circle cx="478.25" cy="145.73" r="2.60" fill="#9010d0"/><circle cx="477.55" cy="144.93" r="0.90" fill="#e0a0ff"/>
<circle cx="500.75" cy="132.10" r="2.60" fill="#9010d0"/><circle cx="500.05" cy="131.30" r="0.90" fill="#e0a0ff"/>
<circle cx="523.25" cy="145.73" r="2.60" fill="#9010d0"/><circle cx="522.55" cy="144.93" r="0.90" fill="#e0a0ff"/>
<circle cx="534.50" cy="135.77" r="2.60" fill="#9010d0"/><circle cx="533.80" cy="134.97" r="0.90" fill="#e0a0ff"/>
<rect x="309.5" y="6.0" width="234.20000000000005" height="188.4" fill="none" stroke="#222222" stroke-width="1.3"/>
<path d="M309.50 194.40V198.00M315.12 194.40V196.30M320.75 194.40V198.00M326.38 194.40V196.30M332.00 194.40V198.00M337.62 194.40V196.30M343.25 194.40V198.00M348.88 194.40V196.30M354.50 194.40V198.00M360.12 194.40V196.30M365.75 194.40V198.00M371.38 194.40V196.30M377.00 194.40V198.00M382.62 194.40V196.30M388.25 194.40V198.00M393.88 194.40V196.30M399.50 194.40V198.00M405.12 194.40V196.30M410.75 194.40V198.00M416.38 194.40V196.30M422.00 194.40V198.00M427.62 194.40V196.30M433.25 194.40V198.00M438.88 194.40V196.30M444.50 194.40V198.00M450.12 194.40V196.30M455.75 194.40V198.00M461.38 194.40V196.30M467.00 194.40V198.00M472.62 194.40V196.30M478.25 194.40V198.00M483.88 194.40V196.30M489.50 194.40V198.00M495.12 194.40V196.30M500.75 194.40V198.00M506.38 194.40V196.30M512.00 194.40V198.00M517.62 194.40V196.30M523.25 194.40V198.00M528.88 194.40V196.30M534.50 194.40V198.00M309.50 184.00H305.90M309.50 176.14H307.60M309.50 191.86H307.60M309.50 168.27H305.90M309.50 160.41H307.60M309.50 152.54H305.90M309.50 144.68H307.60M309.50 136.82H305.90M309.50 128.95H307.60M309.50 121.09H305.90M309.50 113.23H307.60M309.50 105.36H305.90M309.50 97.50H307.60M309.50 89.64H305.90M309.50 81.77H307.60M309.50 73.91H305.90M309.50 66.05H307.60M309.50 58.18H305.90M309.50 50.32H307.60M309.50 42.46H305.90M309.50 34.59H307.60M309.50 26.73H305.90M309.50 18.86H307.60M309.50 11.00H305.90" stroke="#222222" stroke-width="1.25" fill="none"/>
<text x="302.90" y="187.10" font-size="8.8" text-anchor="end" >0.00</text>
<text x="302.90" y="171.37" font-size="8.8" text-anchor="end" >0.03</text>
<text x="302.90" y="155.64" font-size="8.8" text-anchor="end" >0.06</text>
<text x="302.90" y="139.92" font-size="8.8" text-anchor="end" >0.09</text>
<text x="302.90" y="124.19" font-size="8.8" text-anchor="end" >0.12</text>
<text x="302.90" y="108.46" font-size="8.8" text-anchor="end" >0.15</text>
<text x="302.90" y="92.74" font-size="8.8" text-anchor="end" >0.18</text>
<text x="302.90" y="77.01" font-size="8.8" text-anchor="end" >0.21</text>
<text x="302.90" y="61.28" font-size="8.8" text-anchor="end" >0.24</text>
<text x="302.90" y="45.56" font-size="8.8" text-anchor="end" >0.27</text>
<text x="302.90" y="29.83" font-size="8.8" text-anchor="end" >0.30</text>
<text x="302.90" y="14.10" font-size="8.8" text-anchor="end" >0.33</text>
<text transform="translate(312.50,200.40) rotate(-90) scale(0.93,1)" style="stroke-width:0.6px" font-size="9.1" text-anchor="end">0</text>
<text transform="translate(323.75,200.40) rotate(-90) scale(0.93,1)" style="stroke-width:0.6px" font-size="9.1" text-anchor="end">1750</text>
<text transform="translate(335.00,200.40) rotate(-90) scale(0.93,1)" style="stroke-width:0.6px" font-size="9.1" text-anchor="end">3500</text>
<text transform="translate(346.25,200.40) rotate(-90) scale(0.93,1)" style="stroke-width:0.6px" font-size="9.1" text-anchor="end">5250</text>
<text transform="translate(357.50,200.40) rotate(-90) scale(0.93,1)" style="stroke-width:0.6px" font-size="9.1" text-anchor="end">7000</text>
<text transform="translate(368.75,200.40) rotate(-90) scale(0.93,1)" style="stroke-width:0.6px" font-size="9.1" text-anchor="end">8750</text>
<text transform="translate(380.00,200.40) rotate(-90) scale(0.93,1)" style="stroke-width:0.6px" font-size="9.1" text-anchor="end">10500</text>
<text transform="translate(391.25,200.40) rotate(-90) scale(0.93,1)" style="stroke-width:0.6px" font-size="9.1" text-anchor="end">12250</text>
<text transform="translate(402.50,200.40) rotate(-90) scale(0.93,1)" style="stroke-width:0.6px" font-size="9.1" text-anchor="end">14000</text>
<text transform="translate(413.75,200.40) rotate(-90) scale(0.93,1)" style="stroke-width:0.6px" font-size="9.1" text-anchor="end">15750</text>
<text transform="translate(425.00,200.40) rotate(-90) scale(0.93,1)" style="stroke-width:0.6px" font-size="9.1" text-anchor="end">17500</text>
<text transform="translate(436.25,200.40) rotate(-90) scale(0.93,1)" style="stroke-width:0.6px" font-size="9.1" text-anchor="end">19250</text>
<text transform="translate(447.50,200.40) rotate(-90) scale(0.93,1)" style="stroke-width:0.6px" font-size="9.1" text-anchor="end">21000</text>
<text transform="translate(458.75,200.40) rotate(-90) scale(0.93,1)" style="stroke-width:0.6px" font-size="9.1" text-anchor="end">22750</text>
<text transform="translate(470.00,200.40) rotate(-90) scale(0.93,1)" style="stroke-width:0.6px" font-size="9.1" text-anchor="end">24500</text>
<text transform="translate(481.25,200.40) rotate(-90) scale(0.93,1)" style="stroke-width:0.6px" font-size="9.1" text-anchor="end">26250</text>
<text transform="translate(492.50,200.40) rotate(-90) scale(0.93,1)" style="stroke-width:0.6px" font-size="9.1" text-anchor="end">28000</text>
<text transform="translate(503.75,200.40) rotate(-90) scale(0.93,1)" style="stroke-width:0.6px" font-size="9.1" text-anchor="end">29750</text>
<text transform="translate(515.00,200.40) rotate(-90) scale(0.93,1)" style="stroke-width:0.6px" font-size="9.1" text-anchor="end">31500</text>
<text transform="translate(526.25,200.40) rotate(-90) scale(0.93,1)" style="stroke-width:0.6px" font-size="9.1" text-anchor="end">33250</text>
<text transform="translate(537.50,200.40) rotate(-90) scale(0.93,1)" style="stroke-width:0.6px" font-size="9.1" text-anchor="end">35000</text>
<rect x="374.9" y="9.6" width="166.0" height="26.699999999999996" fill="#ffffff" stroke="#a8a8a8" stroke-width="1"/>
<path d="M375.90 14.50H391.90" stroke="#ff0000" stroke-width="1.10"/>
<rect x="381.40" y="12.00" width="5.00" height="5.00" fill="#ff0000"/>
<text transform="translate(393.70,17.20) scale(0.88,1)" style="stroke-width:0.7px" font-size="8.0">SAC_D</text>
<path d="M416.60 14.50H432.60" stroke="#404040" stroke-width="1.10" stroke-dasharray="3.5 2"/>
<circle cx="424.60" cy="14.50" r="2.80" fill="#333333"/>
<text transform="translate(434.40,17.20) scale(0.88,1)" style="stroke-width:0.7px" font-size="8.0">SAC_B</text>
<path d="M456.50 14.50H472.50" stroke="#ff00ff" stroke-width="1.10" stroke-dasharray="1 2"/>
<path d="M464.50 11.00L468.00 17.12L461.00 17.12Z" fill="#ff00ff"/>
<text transform="translate(472.40,17.20) scale(0.88,1)" style="stroke-width:0.7px" font-size="8.0">SAC_C</text>
<path d="M494.60 14.50H510.60" stroke="#0000ff" stroke-width="1.10" stroke-dasharray="4 1.5 1 1.5"/>
<path d="M502.60 11.10L506.00 14.50L502.60 17.90L499.20 14.50Z" fill="#0000ff"/>
<text transform="translate(512.30,17.20) scale(0.88,1)" style="stroke-width:0.7px" font-size="8.0">SAC_CC</text>
<path d="M375.90 23.30H391.90" stroke="#44ee44" stroke-width="1.10" stroke-dasharray="2.2 1.6 0.8 1.6"/>
<circle cx="383.90" cy="23.30" r="2.80" fill="#33ee33"/>
<text transform="translate(393.70,26.00) scale(0.88,1)" style="stroke-width:0.7px" font-size="8.0">CN</text>
<path d="M416.60 23.30H432.60" stroke="#d4a020" stroke-width="1.10" stroke-dasharray="3.5 2.5"/>
<polygon points="424.60,20.00 425.42,22.17 427.74,22.28 425.93,23.73 426.54,25.97 424.60,24.70 422.66,25.97 423.27,23.73 421.46,22.28 423.78,22.17" fill="#cc9a1a"/>
<text transform="translate(434.40,26.00) scale(0.88,1)" style="stroke-width:0.7px" font-size="8.0">JC</text>
<path d="M456.50 23.30H472.50" stroke="#1ec0c8" stroke-width="1.10" stroke-dasharray="4 1.5 1 1.5"/>
<polygon points="464.50,20.50 466.92,21.90 466.92,24.70 464.50,26.10 462.08,24.70 462.08,21.90" fill="#18b8c0"/>
<text transform="translate(472.40,26.00) scale(0.88,1)" style="stroke-width:0.7px" font-size="8.0">AA</text>
<path d="M494.60 23.30H510.60" stroke="#a07878" stroke-width="1.10" stroke-dasharray="3.5 2.5"/>
<path d="M500.10 23.30H505.10M502.60 20.80V25.80" stroke="#a07878" stroke-width="0.7" fill="none"/>
<text transform="translate(512.30,26.00) scale(0.88,1)" style="stroke-width:0.7px" font-size="8.0">RA</text>
<path d="M375.90 32.00H391.90" stroke="#a0a030" stroke-width="1.21"/>
<path d="M380.80 29.52L387.00 34.48M380.80 34.48L387.00 29.52M380.80 32.00H387.00" stroke="#a0a030" stroke-width="0.6" fill="none" opacity="0.7"/>
<text transform="translate(393.70,34.70) scale(0.88,1)" style="stroke-width:0.7px" font-size="8.0">PA</text>
<path d="M416.60 32.00H432.60" stroke="#a020e0" stroke-width="1.10" stroke-dasharray="3.5 2"/>
<circle cx="424.60" cy="32.00" r="2.60" fill="#9010d0"/><circle cx="423.90" cy="31.20" r="0.90" fill="#e0a0ff"/>
<text transform="translate(434.40,34.70) scale(0.88,1)" style="stroke-width:0.7px" font-size="8.0">CCPA</text>
<text x="312.30" y="191.10" font-size="9.7" text-anchor="start" >web-polblogs</text>
<polyline points="50.75,303.38 58.77,307.56 73.65,311.64 85.10,320.10 96.55,322.82 108.00,325.32 119.45,327.62 130.90,329.30 142.35,330.65 153.80,333.27 165.25,332.85 176.70,336.82 188.15,340.37 199.60,339.96 211.05,339.12 222.50,341.00 233.95,342.46 245.40,343.09 256.85,344.34 268.30,347.06" fill="none" stroke="#ff0000" stroke-width="1"/>
<rect x="48.25" y="300.88" width="5.00" height="5.00" fill="#ff0000"/>
<rect x="71.15" y="309.14" width="5.00" height="5.00" fill="#ff0000"/>
<rect x="94.05" y="320.32" width="5.00" height="5.00" fill="#ff0000"/>
<rect x="116.95" y="325.12" width="5.00" height="5.00" fill="#ff0000"/>
<rect x="139.85" y="328.15" width="5.00" height="5.00" fill="#ff0000"/>
<rect x="162.75" y="330.35" width="5.00" height="5.00" fill="#ff0000"/>
<rect x="185.65" y="337.87" width="5.00" height="5.00" fill="#ff0000"/>
<rect x="208.55" y="336.62" width="5.00" height="5.00" fill="#ff0000"/>
<rect x="231.45" y="339.96" width="5.00" height="5.00" fill="#ff0000"/>
<rect x="254.35" y="341.84" width="5.00" height="5.00" fill="#ff0000"/>
<rect x="265.80" y="344.56" width="5.00" height="5.00" fill="#ff0000"/>
<polyline points="50.75,324.49 58.77,333.89 73.65,343.51 85.10,346.43 96.55,349.36 108.00,353.54 119.45,358.35 130.90,361.90 142.35,364.93 153.80,363.36 165.25,363.57 176.70,363.99 188.15,364.91 199.60,364.41 211.05,364.91 222.50,366.08 233.95,367.12 245.40,369.22 256.85,370.47 268.30,372.56" fill="none" stroke="#404040" stroke-width="1" stroke-dasharray="3.5 2"/>
<circle cx="50.75" cy="324.49" r="2.80" fill="#333333"/>
<circle cx="73.65" cy="343.51" r="2.80" fill="#333333"/>
<circle cx="96.55" cy="349.36" r="2.80" fill="#333333"/>
<circle cx="119.45" cy="358.35" r="2.80" fill="#333333"/>
<circle cx="142.35" cy="364.93" r="2.80" fill="#333333"/>
<circle cx="165.25" cy="363.57" r="2.80" fill="#333333"/>
<circle cx="188.15" cy="364.91" r="2.80" fill="#333333"/>
<circle cx="211.05" cy="364.91" r="2.80" fill="#333333"/>
<circle cx="233.95" cy="367.12" r="2.80" fill="#333333"/>
<circle cx="256.85" cy="370.47" r="2.80" fill="#333333"/>
<circle cx="268.30" cy="372.56" r="2.80" fill="#333333"/>
<polyline points="50.75,299.83 58.77,307.56 73.65,316.44 85.10,316.97 96.55,317.80 108.00,322.19 119.45,325.32 130.90,327.21 142.35,328.75 153.80,330.55 165.25,332.22 176.70,333.48 188.15,334.73 199.60,336.61 211.05,338.49 222.50,339.96 233.95,341.21 245.40,342.25 256.85,343.09 268.30,341.84" fill="none" stroke="#ff00ff" stroke-width="1" stroke-dasharray="1 2"/>
<path d="M50.75 296.33L54.25 302.45L47.25 302.45Z" fill="#ff00ff"/>
<path d="M73.65 312.94L77.15 319.07L70.15 319.07Z" fill="#ff00ff"/>
<path d="M96.55 314.30L100.05 320.43L93.05 320.43Z" fill="#ff00ff"/>
<path d="M119.45 321.82L122.95 327.95L115.95 327.95Z" fill="#ff00ff"/>
<path d="M142.35 325.25L145.85 331.38L138.85 331.38Z" fill="#ff00ff"/>
<path d="M165.25 328.72L168.75 334.85L161.75 334.85Z" fill="#ff00ff"/>
<path d="M188.15 331.23L191.65 337.36L184.65 337.36Z" fill="#ff00ff"/>
<path d="M211.05 334.99L214.55 341.12L207.55 341.12Z" fill="#ff00ff"/>
<path d="M233.95 337.71L237.45 343.83L230.45 343.83Z" fill="#ff00ff"/>
<path d="M256.85 339.59L260.35 345.72L253.35 345.72Z" fill="#ff00ff"/>
<path d="M268.30 338.34L271.80 344.46L264.80 344.46Z" fill="#ff00ff"/>
<polyline points="50.75,250.29 58.77,259.49 73.65,268.79 85.10,274.12 96.55,279.76 108.00,283.52 119.45,287.50 130.90,292.51 142.35,297.21 153.80,299.62 165.25,301.71 176.70,302.54 188.15,303.38 199.60,305.89 211.05,307.98 222.50,310.28 233.95,312.58 245.40,313.41 256.85,314.04 268.30,315.71" fill="none" stroke="#0000ff" stroke-width="1" stroke-dasharray="4 1.5 1 1.5"/>
<path d="M50.75 246.89L54.15 250.29L50.75 253.69L47.35 250.29Z" fill="#0000ff"/>
<path d="M73.65 265.39L77.05 268.79L73.65 272.19L70.25 268.79Z" fill="#0000ff"/>
<path d="M96.55 276.36L99.95 279.76L96.55 283.16L93.15 279.76Z" fill="#0000ff"/>
<path d="M119.45 284.10L122.85 287.50L119.45 290.90L116.05 287.50Z" fill="#0000ff"/>
<path d="M142.35 293.81L145.75 297.21L142.35 300.61L138.95 297.21Z" fill="#0000ff"/>
<path d="M165.25 298.31L168.65 301.71L165.25 305.11L161.85 301.71Z" fill="#0000ff"/>
<path d="M188.15 299.98L191.55 303.38L188.15 306.78L184.75 303.38Z" fill="#0000ff"/>
<path d="M211.05 304.58L214.45 307.98L211.05 311.38L207.65 307.98Z" fill="#0000ff"/>
<path d="M233.95 309.18L237.35 312.58L233.95 315.98L230.55 312.58Z" fill="#0000ff"/>
<path d="M256.85 310.64L260.25 314.04L256.85 317.44L253.45 314.04Z" fill="#0000ff"/>
<path d="M268.30 312.31L271.70 315.71L268.30 319.11L264.90 315.71Z" fill="#0000ff"/>
<polyline points="50.75,343.93 58.77,343.72 73.65,343.51 85.10,343.09 96.55,341.00 108.00,342.05 119.45,342.88 130.90,342.67 142.35,342.25 153.80,343.09 165.25,341.00 176.70,342.05 188.15,342.46 199.60,342.67 211.05,343.09 222.50,343.09 233.95,343.51 245.40,343.72 256.85,344.13 268.30,344.13" fill="none" stroke="#44ee44" stroke-width="1" stroke-dasharray="2.2 1.6 0.8 1.6"/>
<circle cx="50.75" cy="343.93" r="2.80" fill="#33ee33"/>
<circle cx="73.65" cy="343.51" r="2.80" fill="#33ee33"/>
<circle cx="96.55" cy="341.00" r="2.80" fill="#33ee33"/>
<circle cx="119.45" cy="342.88" r="2.80" fill="#33ee33"/>
<circle cx="142.35" cy="342.25" r="2.80" fill="#33ee33"/>
<circle cx="165.25" cy="341.00" r="2.80" fill="#33ee33"/>
<circle cx="188.15" cy="342.46" r="2.80" fill="#33ee33"/>
<circle cx="211.05" cy="343.09" r="2.80" fill="#33ee33"/>
<circle cx="233.95" cy="343.51" r="2.80" fill="#33ee33"/>
<circle cx="256.85" cy="344.13" r="2.80" fill="#33ee33"/>
<circle cx="268.30" cy="344.13" r="2.80" fill="#33ee33"/>
<polyline points="50.75,409.07 58.77,409.07 73.65,409.07 85.10,409.07 96.55,409.07 108.00,409.07 119.45,409.07 130.90,409.34 142.35,409.07 153.80,409.34 165.25,409.68 176.70,409.55 188.15,409.55 199.60,409.55 211.05,409.55 222.50,409.76 233.95,409.97 245.40,409.76 256.85,409.34 268.30,409.34" fill="none" stroke="#d4a020" stroke-width="1" stroke-dasharray="3.5 2.5"/>
<polygon points="50.75,405.77 51.57,407.94 53.89,408.05 52.08,409.50 52.69,411.74 50.75,410.47 48.81,411.74 49.42,409.50 47.61,408.05 49.93,407.94" fill="#cc9a1a"/>
<polygon points="73.65,405.77 74.47,407.94 76.79,408.05 74.98,409.50 75.59,411.74 73.65,410.47 71.71,411.74 72.32,409.50 70.51,408.05 72.83,407.94" fill="#cc9a1a"/>
<polygon points="96.55,405.77 97.37,407.94 99.69,408.05 97.88,409.50 98.49,411.74 96.55,410.47 94.61,411.74 95.22,409.50 93.41,408.05 95.73,407.94" fill="#cc9a1a"/>
<polygon points="119.45,405.77 120.27,407.94 122.59,408.05 120.78,409.50 121.39,411.74 119.45,410.47 117.51,411.74 118.12,409.50 116.31,408.05 118.63,407.94" fill="#cc9a1a"/>
<polygon points="142.35,405.77 143.17,407.94 145.49,408.05 143.68,409.50 144.29,411.74 142.35,410.47 140.41,411.74 141.02,409.50 139.21,408.05 141.53,407.94" fill="#cc9a1a"/>
<polygon points="165.25,406.38 166.07,408.54 168.39,408.66 166.58,410.11 167.19,412.35 165.25,411.08 163.31,412.35 163.92,410.11 162.11,408.66 164.43,408.54" fill="#cc9a1a"/>
<polygon points="188.15,406.25 188.97,408.42 191.29,408.53 189.48,409.98 190.09,412.22 188.15,410.95 186.21,412.22 186.82,409.98 185.01,408.53 187.33,408.42" fill="#cc9a1a"/>
<polygon points="211.05,406.25 211.87,408.42 214.19,408.53 212.38,409.98 212.99,412.22 211.05,410.95 209.11,412.22 209.72,409.98 207.91,408.53 210.23,408.42" fill="#cc9a1a"/>
<polygon points="233.95,406.67 234.77,408.84 237.09,408.95 235.28,410.40 235.89,412.64 233.95,411.37 232.01,412.64 232.62,410.40 230.81,408.95 233.13,408.84" fill="#cc9a1a"/>
<polygon points="256.85,406.04 257.67,408.21 259.99,408.32 258.18,409.78 258.79,412.01 256.85,410.74 254.91,412.01 255.52,409.78 253.71,408.32 256.03,408.21" fill="#cc9a1a"/>
<polygon points="268.30,406.04 269.12,408.21 271.44,408.32 269.63,409.78 270.24,412.01 268.30,410.74 266.36,412.01 266.97,409.78 265.16,408.32 267.48,408.21" fill="#cc9a1a"/>
<polyline points="50.75,378.20 58.77,377.78 73.65,377.24 85.10,377.58 96.55,377.78 108.00,377.78 119.45,377.78 130.90,377.99 142.35,378.20 153.80,377.78 165.25,377.58 176.70,376.53 188.15,375.28 199.60,376.53 211.05,377.99 222.50,377.58 233.95,376.95 245.40,376.95 256.85,376.95 268.30,377.58" fill="none" stroke="#1ec0c8" stroke-width="1" stroke-dasharray="4 1.5 1 1.5"/>
<polygon points="50.75,375.40 53.17,376.80 53.17,379.60 50.75,381.00 48.33,379.60 48.33,376.80" fill="#18b8c0"/>
<polygon points="73.65,374.44 76.07,375.84 76.07,378.64 73.65,380.04 71.23,378.64 71.23,375.84" fill="#18b8c0"/>
<polygon points="96.55,374.98 98.97,376.38 98.97,379.18 96.55,380.58 94.13,379.18 94.13,376.38" fill="#18b8c0"/>
<polygon points="119.45,374.98 121.87,376.38 121.87,379.18 119.45,380.58 117.03,379.18 117.03,376.38" fill="#18b8c0"/>
<polygon points="142.35,375.40 144.77,376.80 144.77,379.60 142.35,381.00 139.93,379.60 139.93,376.80" fill="#18b8c0"/>
<polygon points="165.25,374.78 167.67,376.18 167.67,378.98 165.25,380.38 162.83,378.98 162.83,376.18" fill="#18b8c0"/>
<polygon points="188.15,372.48 190.57,373.88 190.57,376.68 188.15,378.08 185.73,376.68 185.73,373.88" fill="#18b8c0"/>
<polygon points="211.05,375.19 213.47,376.59 213.47,379.39 211.05,380.79 208.63,379.39 208.63,376.59" fill="#18b8c0"/>
<polygon points="233.95,374.15 236.37,375.55 236.37,378.35 233.95,379.75 231.53,378.35 231.53,375.55" fill="#18b8c0"/>
<polygon points="256.85,374.15 259.27,375.55 259.27,378.35 256.85,379.75 254.43,378.35 254.43,375.55" fill="#18b8c0"/>
<polygon points="268.30,374.78 270.72,376.18 270.72,378.98 268.30,380.38 265.88,378.98 265.88,376.18" fill="#18b8c0"/>
<polyline points="50.75,370.26 58.77,370.26 73.65,370.26 85.10,370.26 96.55,370.26 108.00,370.47 119.45,370.68 130.90,370.89 142.35,370.89 153.80,371.10 165.25,371.31 176.70,371.10 188.15,371.10 199.60,371.10 211.05,371.31 222.50,371.10 233.95,371.10 245.40,370.68 256.85,370.26 268.30,369.84" fill="none" stroke="#a07878" stroke-width="1" stroke-dasharray="3.5 2.5"/>
<path d="M48.25 370.26H53.25M50.75 367.76V372.76" stroke="#a07878" stroke-width="0.7" fill="none"/>
<path d="M71.15 370.26H76.15M73.65 367.76V372.76" stroke="#a07878" stroke-width="0.7" fill="none"/>
<path d="M94.05 370.26H99.05M96.55 367.76V372.76" stroke="#a07878" stroke-width="0.7" fill="none"/>
<path d="M116.95 370.68H121.95M119.45 368.18V373.18" stroke="#a07878" stroke-width="0.7" fill="none"/>
<path d="M139.85 370.89H144.85M142.35 368.39V373.39" stroke="#a07878" stroke-width="0.7" fill="none"/>
<path d="M162.75 371.31H167.75M165.25 368.81V373.81" stroke="#a07878" stroke-width="0.7" fill="none"/>
<path d="M185.65 371.10H190.65M188.15 368.60V373.60" stroke="#a07878" stroke-width="0.7" fill="none"/>
<path d="M208.55 371.31H213.55M211.05 368.81V373.81" stroke="#a07878" stroke-width="0.7" fill="none"/>
<path d="M231.45 371.10H236.45M233.95 368.60V373.60" stroke="#a07878" stroke-width="0.7" fill="none"/>
<path d="M254.35 370.26H259.35M256.85 367.76V372.76" stroke="#a07878" stroke-width="0.7" fill="none"/>
<path d="M265.80 369.84H270.80M268.30 367.34V372.34" stroke="#a07878" stroke-width="0.7" fill="none"/>
<polyline points="50.75,418.96 58.77,419.58 73.65,419.58 85.10,419.38 96.55,419.38 108.00,419.38 119.45,419.17 130.90,419.38 142.35,418.96 153.80,418.96 165.25,418.54 176.70,418.96 188.15,418.96 199.60,418.96 211.05,418.75 222.50,418.54 233.95,418.96 245.40,419.58 256.85,419.38 268.30,419.38" fill="none" stroke="#a0a030" stroke-width="1.1"/>
<path d="M47.65 416.48L53.85 421.44M47.65 421.44L53.85 416.48M47.65 418.96H53.85" stroke="#a0a030" stroke-width="0.6" fill="none" opacity="0.7"/>
<path d="M70.55 417.10L76.75 422.06M70.55 422.06L76.75 417.10M70.55 419.58H76.75" stroke="#a0a030" stroke-width="0.6" fill="none" opacity="0.7"/>
<path d="M93.45 416.89L99.65 421.86M93.45 421.86L99.65 416.89M93.45 419.38H99.65" stroke="#a0a030" stroke-width="0.6" fill="none" opacity="0.7"/>
<path d="M116.35 416.69L122.55 421.65M116.35 421.65L122.55 416.69M116.35 419.17H122.55" stroke="#a0a030" stroke-width="0.6" fill="none" opacity="0.7"/>
<path d="M139.25 416.48L145.45 421.44M139.25 421.44L145.45 416.48M139.25 418.96H145.45" stroke="#a0a030" stroke-width="0.6" fill="none" opacity="0.7"/>
<path d="M162.15 416.06L168.35 421.02M162.15 421.02L168.35 416.06M162.15 418.54H168.35" stroke="#a0a030" stroke-width="0.6" fill="none" opacity="0.7"/>
<path d="M185.05 416.48L191.25 421.44M185.05 421.44L191.25 416.48M185.05 418.96H191.25" stroke="#a0a030" stroke-width="0.6" fill="none" opacity="0.7"/>
<path d="M207.95 416.27L214.15 421.23M207.95 421.23L214.15 416.27M207.95 418.75H214.15" stroke="#a0a030" stroke-width="0.6" fill="none" opacity="0.7"/>
<path d="M230.85 416.48L237.05 421.44M230.85 421.44L237.05 416.48M230.85 418.96H237.05" stroke="#a0a030" stroke-width="0.6" fill="none" opacity="0.7"/>
<path d="M253.75 416.89L259.95 421.86M253.75 421.86L259.95 416.89M253.75 419.38H259.95" stroke="#a0a030" stroke-width="0.6" fill="none" opacity="0.7"/>
<path d="M265.20 416.89L271.40 421.86M265.20 421.86L271.40 416.89M265.20 419.38H271.40" stroke="#a0a030" stroke-width="0.6" fill="none" opacity="0.7"/>
<polyline points="50.75,380.50 58.77,379.67 73.65,378.41 85.10,379.87 96.55,381.13 108.00,388.23 119.45,379.54 130.90,382.80 142.35,386.56 153.80,384.89 165.25,389.07 176.70,385.94 188.15,383.01 199.60,378.62 211.05,373.92 222.50,378.62 233.95,375.90 245.40,380.71 256.85,387.19 268.30,377.58" fill="none" stroke="#a020e0" stroke-width="1" stroke-dasharray="3.5 2"/>
<circle cx="50.75" cy="380.50" r="2.60" fill="#9010d0"/><circle cx="50.05" cy="379.70" r="0.90" fill="#e0a0ff"/>
<circle cx="73.65" cy="378.41" r="2.60" fill="#9010d0"/><circle cx="72.95" cy="377.61" r="0.90" fill="#e0a0ff"/>
<circle cx="96.55" cy="381.13" r="2.60" fill="#9010d0"/><circle cx="95.85" cy="380.33" r="0.90" fill="#e0a0ff"/>
<circle cx="119.45" cy="379.54" r="2.60" fill="#9010d0"/><circle cx="118.75" cy="378.74" r="0.90" fill="#e0a0ff"/>
<circle cx="142.35" cy="386.56" r="2.60" fill="#9010d0"/><circle cx="141.65" cy="385.76" r="0.90" fill="#e0a0ff"/>
<circle cx="165.25" cy="389.07" r="2.60" fill="#9010d0"/><circle cx="164.55" cy="388.27" r="0.90" fill="#e0a0ff"/>
<circle cx="188.15" cy="383.01" r="2.60" fill="#9010d0"/><circle cx="187.45" cy="382.21" r="0.90" fill="#e0a0ff"/>
<circle cx="211.05" cy="373.92" r="2.60" fill="#9010d0"/><circle cx="210.35" cy="373.12" r="0.90" fill="#e0a0ff"/>
<circle cx="233.95" cy="375.90" r="2.60" fill="#9010d0"/><circle cx="233.25" cy="375.10" r="0.90" fill="#e0a0ff"/>
<circle cx="256.85" cy="387.19" r="2.60" fill="#9010d0"/><circle cx="256.15" cy="386.39" r="0.90" fill="#e0a0ff"/>
<circle cx="268.30" cy="377.58" r="2.60" fill="#9010d0"/><circle cx="267.60" cy="376.78" r="0.90" fill="#e0a0ff"/>
<rect x="39.3" y="236.5" width="235.2" height="188.10000000000002" fill="none" stroke="#222222" stroke-width="1.3"/>
<path d="M39.30 424.60V428.20M45.02 424.60V426.50M50.75 424.60V428.20M56.48 424.60V426.50M62.20 424.60V428.20M67.92 424.60V426.50M73.65 424.60V428.20M79.37 424.60V426.50M85.10 424.60V428.20M90.82 424.60V426.50M96.55 424.60V428.20M102.27 424.60V426.50M108.00 424.60V428.20M113.72 424.60V426.50M119.45 424.60V428.20M125.17 424.60V426.50M130.90 424.60V428.20M136.62 424.60V426.50M142.35 424.60V428.20M148.07 424.60V426.50M153.80 424.60V428.20M159.53 424.60V426.50M165.25 424.60V428.20M170.97 424.60V426.50M176.70 424.60V428.20M182.42 424.60V426.50M188.15 424.60V428.20M193.87 424.60V426.50M199.60 424.60V428.20M205.32 424.60V426.50M211.05 424.60V428.20M216.78 424.60V426.50M222.50 424.60V428.20M228.22 424.60V426.50M233.95 424.60V428.20M239.67 424.60V426.50M245.40 424.60V428.20M251.12 424.60V426.50M256.85 424.60V428.20M262.57 424.60V426.50M268.30 424.60V428.20M39.30 424.60H35.70M39.30 414.15H37.40M39.30 403.70H35.70M39.30 393.25H37.40M39.30 382.80H35.70M39.30 372.35H37.40M39.30 361.90H35.70M39.30 351.45H37.40M39.30 341.00H35.70M39.30 330.55H37.40M39.30 320.10H35.70M39.30 309.65H37.40M39.30 299.20H35.70M39.30 288.75H37.40M39.30 278.30H35.70M39.30 267.85H37.40M39.30 257.40H35.70M39.30 246.95H37.40M39.30 236.50H35.70" stroke="#222222" stroke-width="1.25" fill="none"/>
<text x="32.70" y="427.70" font-size="8.8" text-anchor="end" >0.0</text>
<text x="32.70" y="406.80" font-size="8.8" text-anchor="end" >0.1</text>
<text x="32.70" y="385.90" font-size="8.8" text-anchor="end" >0.2</text>
<text x="32.70" y="365.00" font-size="8.8" text-anchor="end" >0.3</text>
<text x="32.70" y="344.10" font-size="8.8" text-anchor="end" >0.4</text>
<text x="32.70" y="323.20" font-size="8.8" text-anchor="end" >0.5</text>
<text x="32.70" y="302.30" font-size="8.8" text-anchor="end" >0.6</text>
<text x="32.70" y="281.40" font-size="8.8" text-anchor="end" >0.7</text>
<text x="32.70" y="260.50" font-size="8.8" text-anchor="end" >0.8</text>
<text x="32.70" y="239.60" font-size="8.8" text-anchor="end" >0.9</text>
<text transform="translate(42.30,430.60) rotate(-90) scale(0.93,1)" style="stroke-width:0.6px" font-size="9.1" text-anchor="end">0</text>
<text transform="translate(53.75,430.60) rotate(-90) scale(0.93,1)" style="stroke-width:0.6px" font-size="9.1" text-anchor="end">1750</text>
<text transform="translate(65.20,430.60) rotate(-90) scale(0.93,1)" style="stroke-width:0.6px" font-size="9.1" text-anchor="end">3500</text>
<text transform="translate(76.65,430.60) rotate(-90) scale(0.93,1)" style="stroke-width:0.6px" font-size="9.1" text-anchor="end">5250</text>
<text transform="translate(88.10,430.60) rotate(-90) scale(0.93,1)" style="stroke-width:0.6px" font-size="9.1" text-anchor="end">7000</text>
<text transform="translate(99.55,430.60) rotate(-90) scale(0.93,1)" style="stroke-width:0.6px" font-size="9.1" text-anchor="end">8750</text>
<text transform="translate(111.00,430.60) rotate(-90) scale(0.93,1)" style="stroke-width:0.6px" font-size="9.1" text-anchor="end">10500</text>
<text transform="translate(122.45,430.60) rotate(-90) scale(0.93,1)" style="stroke-width:0.6px" font-size="9.1" text-anchor="end">12250</text>
<text transform="translate(133.90,430.60) rotate(-90) scale(0.93,1)" style="stroke-width:0.6px" font-size="9.1" text-anchor="end">14000</text>
<text transform="translate(145.35,430.60) rotate(-90) scale(0.93,1)" style="stroke-width:0.6px" font-size="9.1" text-anchor="end">15750</text>
<text transform="translate(156.80,430.60) rotate(-90) scale(0.93,1)" style="stroke-width:0.6px" font-size="9.1" text-anchor="end">17500</text>
<text transform="translate(168.25,430.60) rotate(-90) scale(0.93,1)" style="stroke-width:0.6px" font-size="9.1" text-anchor="end">19250</text>
<text transform="translate(179.70,430.60) rotate(-90) scale(0.93,1)" style="stroke-width:0.6px" font-size="9.1" text-anchor="end">21000</text>
<text transform="translate(191.15,430.60) rotate(-90) scale(0.93,1)" style="stroke-width:0.6px" font-size="9.1" text-anchor="end">22750</text>
<text transform="translate(202.60,430.60) rotate(-90) scale(0.93,1)" style="stroke-width:0.6px" font-size="9.1" text-anchor="end">24500</text>
<text transform="translate(214.05,430.60) rotate(-90) scale(0.93,1)" style="stroke-width:0.6px" font-size="9.1" text-anchor="end">26250</text>
<text transform="translate(225.50,430.60) rotate(-90) scale(0.93,1)" style="stroke-width:0.6px" font-size="9.1" text-anchor="end">28000</text>
<text transform="translate(236.95,430.60) rotate(-90) scale(0.93,1)" style="stroke-width:0.6px" font-size="9.1" text-anchor="end">29750</text>
<text transform="translate(248.40,430.60) rotate(-90) scale(0.93,1)" style="stroke-width:0.6px" font-size="9.1" text-anchor="end">31500</text>
<text transform="translate(259.85,430.60) rotate(-90) scale(0.93,1)" style="stroke-width:0.6px" font-size="9.1" text-anchor="end">33250</text>
<text transform="translate(271.30,430.60) rotate(-90) scale(0.93,1)" style="stroke-width:0.6px" font-size="9.1" text-anchor="end">35000</text>
<rect x="106.2" y="242.5" width="165.60000000000002" height="26.399999999999977" fill="#ffffff" stroke="#a8a8a8" stroke-width="1"/>
<path d="M107.40 246.80H123.40" stroke="#ff0000" stroke-width="1.10"/>
<rect x="112.90" y="244.30" width="5.00" height="5.00" fill="#ff0000"/>
<text transform="translate(124.70,249.50) scale(0.88,1)" style="stroke-width:0.7px" font-size="8.0">SAC_D</text>
<path d="M148.50 246.80H164.50" stroke="#404040" stroke-width="1.10" stroke-dasharray="3.5 2"/>
<circle cx="156.50" cy="246.80" r="2.80" fill="#333333"/>
<text transform="translate(165.60,249.50) scale(0.88,1)" style="stroke-width:0.7px" font-size="8.0">SAC_B</text>
<path d="M187.00 246.80H203.00" stroke="#ff00ff" stroke-width="1.10" stroke-dasharray="1 2"/>
<path d="M195.00 243.30L198.50 249.43L191.50 249.43Z" fill="#ff00ff"/>
<text transform="translate(203.60,249.50) scale(0.88,1)" style="stroke-width:0.7px" font-size="8.0">SAC_C</text>
<path d="M225.60 246.80H241.60" stroke="#0000ff" stroke-width="1.10" stroke-dasharray="4 1.5 1 1.5"/>
<path d="M233.60 243.40L237.00 246.80L233.60 250.20L230.20 246.80Z" fill="#0000ff"/>
<text transform="translate(242.90,249.50) scale(0.88,1)" style="stroke-width:0.7px" font-size="8.0">SAC_CC</text>
<path d="M107.40 255.70H123.40" stroke="#44ee44" stroke-width="1.10" stroke-dasharray="2.2 1.6 0.8 1.6"/>
<circle cx="115.40" cy="255.70" r="2.80" fill="#33ee33"/>
<text transform="translate(124.70,258.40) scale(0.88,1)" style="stroke-width:0.7px" font-size="8.0">CN</text>
<path d="M148.50 255.70H164.50" stroke="#d4a020" stroke-width="1.10" stroke-dasharray="3.5 2.5"/>
<polygon points="156.50,252.40 157.32,254.57 159.64,254.68 157.83,256.13 158.44,258.37 156.50,257.10 154.56,258.37 155.17,256.13 153.36,254.68 155.68,254.57" fill="#cc9a1a"/>
<text transform="translate(165.60,258.40) scale(0.88,1)" style="stroke-width:0.7px" font-size="8.0">JC</text>
<path d="M187.00 255.70H203.00" stroke="#1ec0c8" stroke-width="1.10" stroke-dasharray="4 1.5 1 1.5"/>
<polygon points="195.00,252.90 197.42,254.30 197.42,257.10 195.00,258.50 192.58,257.10 192.58,254.30" fill="#18b8c0"/>
<text transform="translate(203.60,258.40) scale(0.88,1)" style="stroke-width:0.7px" font-size="8.0">AA</text>
<path d="M225.60 255.70H241.60" stroke="#a07878" stroke-width="1.10" stroke-dasharray="3.5 2.5"/>
<path d="M231.10 255.70H236.10M233.60 253.20V258.20" stroke="#a07878" stroke-width="0.7" fill="none"/>
<text transform="translate(242.90,258.40) scale(0.88,1)" style="stroke-width:0.7px" font-size="8.0">RA</text>
<path d="M107.40 264.50H123.40" stroke="#a0a030" stroke-width="1.21"/>
<path d="M112.30 262.02L118.50 266.98M112.30 266.98L118.50 262.02M112.30 264.50H118.50" stroke="#a0a030" stroke-width="0.6" fill="none" opacity="0.7"/>
<text transform="translate(124.70,267.20) scale(0.88,1)" style="stroke-width:0.7px" font-size="8.0">PA</text>
<path d="M148.50 264.50H164.50" stroke="#a020e0" stroke-width="1.10" stroke-dasharray="3.5 2"/>
<circle cx="156.50" cy="264.50" r="2.60" fill="#9010d0"/><circle cx="155.80" cy="263.70" r="0.90" fill="#e0a0ff"/>
<text transform="translate(165.60,267.20) scale(0.88,1)" style="stroke-width:0.7px" font-size="8.0">CCPA</text>
<text x="206.60" y="289.20" font-size="9.8" text-anchor="start" >facebook-large</text>
<text transform="translate(17.00,330.30) rotate(-90)" font-size="10.3" text-anchor="middle">AUPR</text>
<text transform="translate(119.20,465.60) scale(0.93,1)" font-size="11.5">top-k nodepairs</text>
<polyline points="320.71,359.15 328.70,360.72 343.53,370.88 354.94,374.07 366.35,373.34 377.76,380.46 389.17,389.45 400.58,390.62 411.99,391.78 423.40,383.65 434.81,394.56 446.22,389.16 457.63,388.00 469.04,389.16 480.45,392.94 491.86,392.07 503.27,392.07 514.68,392.07 526.09,393.52 537.50,397.38" fill="none" stroke="#ff0000" stroke-width="1"/>
<rect x="318.21" y="356.65" width="5.00" height="5.00" fill="#ff0000"/>
<rect x="341.03" y="368.38" width="5.00" height="5.00" fill="#ff0000"/>
<rect x="363.85" y="370.84" width="5.00" height="5.00" fill="#ff0000"/>
<rect x="386.67" y="386.95" width="5.00" height="5.00" fill="#ff0000"/>
<rect x="409.49" y="389.28" width="5.00" height="5.00" fill="#ff0000"/>
<rect x="432.31" y="392.06" width="5.00" height="5.00" fill="#ff0000"/>
<rect x="455.13" y="385.50" width="5.00" height="5.00" fill="#ff0000"/>
<rect x="477.95" y="390.44" width="5.00" height="5.00" fill="#ff0000"/>
<rect x="500.77" y="389.57" width="5.00" height="5.00" fill="#ff0000"/>
<rect x="523.59" y="391.02" width="5.00" height="5.00" fill="#ff0000"/>
<rect x="535.00" y="394.88" width="5.00" height="5.00" fill="#ff0000"/>
<polyline points="320.71,382.34 328.70,369.71 343.53,386.84 354.94,387.71 366.35,388.58 377.76,390.62 389.17,392.94 400.58,392.07 411.99,392.94 423.40,397.87 434.81,402.23 446.22,400.78 457.63,403.68 469.04,400.78 480.45,400.78 491.86,400.78 503.27,402.52 514.68,397.87 526.09,394.68 537.50,396.42" fill="none" stroke="#404040" stroke-width="1" stroke-dasharray="3.5 2"/>
<circle cx="320.71" cy="382.34" r="2.80" fill="#333333"/>
<circle cx="343.53" cy="386.84" r="2.80" fill="#333333"/>
<circle cx="366.35" cy="388.58" r="2.80" fill="#333333"/>
<circle cx="389.17" cy="392.94" r="2.80" fill="#333333"/>
<circle cx="411.99" cy="392.94" r="2.80" fill="#333333"/>
<circle cx="434.81" cy="402.23" r="2.80" fill="#333333"/>
<circle cx="457.63" cy="403.68" r="2.80" fill="#333333"/>
<circle cx="480.45" cy="400.78" r="2.80" fill="#333333"/>
<circle cx="503.27" cy="402.52" r="2.80" fill="#333333"/>
<circle cx="526.09" cy="394.68" r="2.80" fill="#333333"/>
<circle cx="537.50" cy="396.42" r="2.80" fill="#333333"/>
<polyline points="320.71,348.61 328.70,357.23 343.53,365.07 354.94,374.65 366.35,380.75 377.76,380.46 389.17,378.54 400.58,381.91 411.99,383.65 423.40,383.36 434.81,383.36 446.22,383.36 457.63,384.23 469.04,383.36 480.45,381.04 491.86,389.16 503.27,399.91 514.68,389.16 526.09,381.33 537.50,388.58" fill="none" stroke="#ff00ff" stroke-width="1" stroke-dasharray="1 2"/>
<path d="M320.71 345.11L324.21 351.23L317.21 351.23Z" fill="#ff00ff"/>
<path d="M343.53 361.57L347.03 367.69L340.03 367.69Z" fill="#ff00ff"/>
<path d="M366.35 377.25L369.85 383.37L362.85 383.37Z" fill="#ff00ff"/>
<path d="M389.17 375.04L392.67 381.16L385.67 381.16Z" fill="#ff00ff"/>
<path d="M411.99 380.15L415.49 386.27L408.49 386.27Z" fill="#ff00ff"/>
<path d="M434.81 379.86L438.31 385.98L431.31 385.98Z" fill="#ff00ff"/>
<path d="M457.63 380.73L461.13 386.85L454.13 386.85Z" fill="#ff00ff"/>
<path d="M480.45 377.54L483.95 383.66L476.95 383.66Z" fill="#ff00ff"/>
<path d="M503.27 396.41L506.77 402.53L499.77 402.53Z" fill="#ff00ff"/>
<path d="M526.09 377.83L529.59 383.95L522.59 383.95Z" fill="#ff00ff"/>
<path d="M537.50 385.08L541.00 391.21L534.00 391.21Z" fill="#ff00ff"/>
<polyline points="320.71,292.79 328.70,288.43 343.53,311.77 354.94,276.53 366.35,311.77 377.76,304.98 389.17,297.14 400.58,303.82 411.99,285.82 423.40,307.01 434.81,298.30 446.22,280.74 457.63,292.87 469.04,271.59 480.45,315.78 491.86,273.92 503.27,268.84 514.68,304.98 526.09,300.68 537.50,293.37" fill="none" stroke="#0000ff" stroke-width="1" stroke-dasharray="4 1.5 1 1.5"/>
<path d="M320.71 289.39L324.11 292.79L320.71 296.19L317.31 292.79Z" fill="#0000ff"/>
<path d="M343.53 308.37L346.93 311.77L343.53 315.17L340.13 311.77Z" fill="#0000ff"/>
<path d="M366.35 308.37L369.75 311.77L366.35 315.17L362.95 311.77Z" fill="#0000ff"/>
<path d="M389.17 293.74L392.57 297.14L389.17 300.54L385.77 297.14Z" fill="#0000ff"/>
<path d="M411.99 282.42L415.39 285.82L411.99 289.22L408.59 285.82Z" fill="#0000ff"/>
<path d="M434.81 294.90L438.21 298.30L434.81 301.70L431.41 298.30Z" fill="#0000ff"/>
<path d="M457.63 289.47L461.03 292.87L457.63 296.27L454.23 292.87Z" fill="#0000ff"/>
<path d="M480.45 312.38L483.85 315.78L480.45 319.18L477.05 315.78Z" fill="#0000ff"/>
<path d="M503.27 265.44L506.67 268.84L503.27 272.24L499.87 268.84Z" fill="#0000ff"/>
<path d="M526.09 297.28L529.49 300.68L526.09 304.08L522.69 300.68Z" fill="#0000ff"/>
<path d="M537.50 289.97L540.90 293.37L537.50 296.77L534.10 293.37Z" fill="#0000ff"/>
<polyline points="320.71,389.16 328.70,389.16 343.53,389.16 354.94,389.16 366.35,392.07 377.76,389.16 389.17,382.49 400.58,386.26 411.99,387.71 423.40,386.26 434.81,383.16 446.22,386.26 457.63,390.18 469.04,389.16 480.45,389.16 491.86,386.26 503.27,383.16 514.68,386.26 526.09,387.71 537.50,381.91" fill="none" stroke="#44ee44" stroke-width="1" stroke-dasharray="2.2 1.6 0.8 1.6"/>
<circle cx="320.71" cy="389.16" r="2.80" fill="#33ee33"/>
<circle cx="343.53" cy="389.16" r="2.80" fill="#33ee33"/>
<circle cx="366.35" cy="392.07" r="2.80" fill="#33ee33"/>
<circle cx="389.17" cy="382.49" r="2.80" fill="#33ee33"/>
<circle cx="411.99" cy="387.71" r="2.80" fill="#33ee33"/>
<circle cx="434.81" cy="383.16" r="2.80" fill="#33ee33"/>
<circle cx="457.63" cy="390.18" r="2.80" fill="#33ee33"/>
<circle cx="480.45" cy="389.16" r="2.80" fill="#33ee33"/>
<circle cx="503.27" cy="383.16" r="2.80" fill="#33ee33"/>
<circle cx="526.09" cy="387.71" r="2.80" fill="#33ee33"/>
<circle cx="537.50" cy="381.91" r="2.80" fill="#33ee33"/>
<polyline points="320.71,418.60 328.70,416.74 343.53,416.80 354.94,416.74 366.35,416.80 377.76,415.29 389.17,420.11 400.58,416.74 411.99,419.18 423.40,417.61 434.81,416.45 446.22,416.74 457.63,417.32 469.04,417.03 480.45,414.13 491.86,416.74 503.27,416.16 514.68,419.06 526.09,417.32 537.50,415.00" fill="none" stroke="#d4a020" stroke-width="1" stroke-dasharray="3.5 2.5"/>
<polygon points="320.71,415.30 321.53,417.47 323.85,417.58 322.04,419.03 322.65,421.27 320.71,420.00 318.77,421.27 319.38,419.03 317.57,417.58 319.89,417.47" fill="#cc9a1a"/>
<polygon points="343.53,413.50 344.35,415.67 346.67,415.78 344.86,417.23 345.47,419.47 343.53,418.20 341.59,419.47 342.20,417.23 340.39,415.78 342.71,415.67" fill="#cc9a1a"/>
<polygon points="366.35,413.50 367.17,415.67 369.49,415.78 367.68,417.23 368.29,419.47 366.35,418.20 364.41,419.47 365.02,417.23 363.21,415.78 365.53,415.67" fill="#cc9a1a"/>
<polygon points="389.17,416.81 389.99,418.98 392.31,419.09 390.50,420.54 391.11,422.78 389.17,421.51 387.23,422.78 387.84,420.54 386.03,419.09 388.35,418.98" fill="#cc9a1a"/>
<polygon points="411.99,415.88 412.81,418.05 415.13,418.16 413.32,419.61 413.93,421.85 411.99,420.58 410.05,421.85 410.66,419.61 408.85,418.16 411.17,418.05" fill="#cc9a1a"/>
<polygon points="434.81,413.15 435.63,415.32 437.95,415.43 436.14,416.88 436.75,419.12 434.81,417.85 432.87,419.12 433.48,416.88 431.67,415.43 433.99,415.32" fill="#cc9a1a"/>
<polygon points="457.63,414.02 458.45,416.19 460.77,416.30 458.96,417.76 459.57,419.99 457.63,418.72 455.69,419.99 456.30,417.76 454.49,416.30 456.81,416.19" fill="#cc9a1a"/>
<polygon points="480.45,410.83 481.27,413.00 483.59,413.11 481.78,414.56 482.39,416.80 480.45,415.53 478.51,416.80 479.12,414.56 477.31,413.11 479.63,413.00" fill="#cc9a1a"/>
<polygon points="503.27,412.86 504.09,415.03 506.41,415.14 504.60,416.59 505.21,418.83 503.27,417.56 501.33,418.83 501.94,416.59 500.13,415.14 502.45,415.03" fill="#cc9a1a"/>
<polygon points="526.09,414.02 526.91,416.19 529.23,416.30 527.42,417.76 528.03,419.99 526.09,418.72 524.15,419.99 524.76,417.76 522.95,416.30 525.27,416.19" fill="#cc9a1a"/>
<polygon points="537.50,411.70 538.32,413.87 540.64,413.98 538.83,415.43 539.44,417.67 537.50,416.40 535.56,417.67 536.17,415.43 534.36,413.98 536.68,413.87" fill="#cc9a1a"/>
<polyline points="320.71,390.18 328.70,394.97 343.53,385.68 354.94,374.94 366.35,388.58 377.76,383.36 389.17,392.94 400.58,390.62 411.99,388.58 423.40,389.16 434.81,389.45 446.22,383.36 457.63,379.29 469.04,383.36 480.45,387.42 491.86,386.26 503.27,383.16 514.68,386.26 526.09,386.55 537.50,386.26" fill="none" stroke="#1ec0c8" stroke-width="1" stroke-dasharray="4 1.5 1 1.5"/>
<polygon points="320.71,387.38 323.13,388.78 323.13,391.58 320.71,392.98 318.29,391.58 318.29,388.78" fill="#18b8c0"/>
<polygon points="343.53,382.88 345.95,384.28 345.95,387.08 343.53,388.48 341.11,387.08 341.11,384.28" fill="#18b8c0"/>
<polygon points="366.35,385.78 368.77,387.18 368.77,389.98 366.35,391.38 363.93,389.98 363.93,387.18" fill="#18b8c0"/>
<polygon points="389.17,390.14 391.59,391.54 391.59,394.34 389.17,395.74 386.75,394.34 386.75,391.54" fill="#18b8c0"/>
<polygon points="411.99,385.78 414.41,387.18 414.41,389.98 411.99,391.38 409.57,389.98 409.57,387.18" fill="#18b8c0"/>
<polygon points="434.81,386.65 437.23,388.05 437.23,390.85 434.81,392.25 432.39,390.85 432.39,388.05" fill="#18b8c0"/>
<polygon points="457.63,376.49 460.05,377.89 460.05,380.69 457.63,382.09 455.21,380.69 455.21,377.89" fill="#18b8c0"/>
<polygon points="480.45,384.62 482.87,386.02 482.87,388.82 480.45,390.22 478.03,388.82 478.03,386.02" fill="#18b8c0"/>
<polygon points="503.27,380.36 505.69,381.76 505.69,384.56 503.27,385.96 500.85,384.56 500.85,381.76" fill="#18b8c0"/>
<polygon points="526.09,383.75 528.51,385.15 528.51,387.95 526.09,389.35 523.67,387.95 523.67,385.15" fill="#18b8c0"/>
<polygon points="537.50,383.46 539.92,384.86 539.92,387.66 537.50,389.06 535.08,387.66 535.08,384.86" fill="#18b8c0"/>
<polyline points="320.71,380.46 328.70,376.39 343.53,379.58 354.94,386.26 366.35,387.71 377.76,381.91 389.17,383.36 400.58,371.75 411.99,380.17 423.40,377.55 434.81,377.55 446.22,370.59 457.63,379.87 469.04,381.33 480.45,381.33 491.86,377.55 503.27,374.94 514.68,380.46 526.09,378.13 537.50,375.96" fill="none" stroke="#a07878" stroke-width="1" stroke-dasharray="3.5 2.5"/>
<path d="M318.21 380.46H323.21M320.71 377.96V382.96" stroke="#a07878" stroke-width="0.7" fill="none"/>
<path d="M341.03 379.58H346.03M343.53 377.08V382.08" stroke="#a07878" stroke-width="0.7" fill="none"/>
<path d="M363.85 387.71H368.85M366.35 385.21V390.21" stroke="#a07878" stroke-width="0.7" fill="none"/>
<path d="M386.67 383.36H391.67M389.17 380.86V385.86" stroke="#a07878" stroke-width="0.7" fill="none"/>
<path d="M409.49 380.17H414.49M411.99 377.67V382.67" stroke="#a07878" stroke-width="0.7" fill="none"/>
<path d="M432.31 377.55H437.31M434.81 375.05V380.05" stroke="#a07878" stroke-width="0.7" fill="none"/>
<path d="M455.13 379.87H460.13M457.63 377.37V382.37" stroke="#a07878" stroke-width="0.7" fill="none"/>
<path d="M477.95 381.33H482.95M480.45 378.83V383.83" stroke="#a07878" stroke-width="0.7" fill="none"/>
<path d="M500.77 374.94H505.77M503.27 372.44V377.44" stroke="#a07878" stroke-width="0.7" fill="none"/>
<path d="M523.59 378.13H528.59M526.09 375.63V380.63" stroke="#a07878" stroke-width="0.7" fill="none"/>
<path d="M535.00 375.96H540.00M537.50 373.46V378.46" stroke="#a07878" stroke-width="0.7" fill="none"/>
<polyline points="320.71,408.32 328.70,406.58 343.53,401.76 354.94,398.86 366.35,406.99 377.76,406.99 389.17,406.99 400.58,404.84 411.99,410.94 423.40,406.58 434.81,401.07 446.22,403.68 457.63,407.74 469.04,407.45 480.45,406.99 491.86,407.74 503.27,398.86 514.68,402.23 526.09,404.38 537.50,406.00" fill="none" stroke="#a0a030" stroke-width="1.1"/>
<path d="M317.61 405.84L323.81 410.80M317.61 410.80L323.81 405.84M317.61 408.32H323.81" stroke="#a0a030" stroke-width="0.6" fill="none" opacity="0.7"/>
<path d="M340.43 399.28L346.63 404.24M340.43 404.24L346.63 399.28M340.43 401.76H346.63" stroke="#a0a030" stroke-width="0.6" fill="none" opacity="0.7"/>
<path d="M363.25 404.51L369.45 409.47M363.25 409.47L369.45 404.51M363.25 406.99H369.45" stroke="#a0a030" stroke-width="0.6" fill="none" opacity="0.7"/>
<path d="M386.07 404.51L392.27 409.47M386.07 409.47L392.27 404.51M386.07 406.99H392.27" stroke="#a0a030" stroke-width="0.6" fill="none" opacity="0.7"/>
<path d="M408.89 408.46L415.09 413.42M408.89 413.42L415.09 408.46M408.89 410.94H415.09" stroke="#a0a030" stroke-width="0.6" fill="none" opacity="0.7"/>
<path d="M431.71 398.59L437.91 403.55M431.71 403.55L437.91 398.59M431.71 401.07H437.91" stroke="#a0a030" stroke-width="0.6" fill="none" opacity="0.7"/>
<path d="M454.53 405.26L460.73 410.22M454.53 410.22L460.73 405.26M454.53 407.74H460.73" stroke="#a0a030" stroke-width="0.6" fill="none" opacity="0.7"/>
<path d="M477.35 404.51L483.55 409.47M477.35 409.47L483.55 404.51M477.35 406.99H483.55" stroke="#a0a030" stroke-width="0.6" fill="none" opacity="0.7"/>
<path d="M500.17 396.38L506.37 401.34M500.17 401.34L506.37 396.38M500.17 398.86H506.37" stroke="#a0a030" stroke-width="0.6" fill="none" opacity="0.7"/>
<path d="M522.99 401.90L529.19 406.86M522.99 406.86L529.19 401.90M522.99 404.38H529.19" stroke="#a0a030" stroke-width="0.6" fill="none" opacity="0.7"/>
<path d="M534.40 403.52L540.60 408.48M534.40 408.48L540.60 403.52M534.40 406.00H540.60" stroke="#a0a030" stroke-width="0.6" fill="none" opacity="0.7"/>
<polyline points="320.71,401.76 328.70,405.13 343.53,407.74 354.94,402.23 366.35,396.71 377.76,397.87 389.17,398.86 400.58,400.78 411.99,403.97 423.40,403.68 434.81,406.58 446.22,402.23 457.63,398.45 469.04,397.87 480.45,397.29 491.86,400.78 503.27,406.58 514.68,403.68 526.09,401.07 537.50,400.78" fill="none" stroke="#a020e0" stroke-width="1" stroke-dasharray="3.5 2"/>
<circle cx="320.71" cy="401.76" r="2.60" fill="#9010d0"/><circle cx="320.01" cy="400.96" r="0.90" fill="#e0a0ff"/>
<circle cx="343.53" cy="407.74" r="2.60" fill="#9010d0"/><circle cx="342.83" cy="406.94" r="0.90" fill="#e0a0ff"/>
<circle cx="366.35" cy="396.71" r="2.60" fill="#9010d0"/><circle cx="365.65" cy="395.91" r="0.90" fill="#e0a0ff"/>
<circle cx="389.17" cy="398.86" r="2.60" fill="#9010d0"/><circle cx="388.47" cy="398.06" r="0.90" fill="#e0a0ff"/>
<circle cx="411.99" cy="403.97" r="2.60" fill="#9010d0"/><circle cx="411.29" cy="403.17" r="0.90" fill="#e0a0ff"/>
<circle cx="434.81" cy="406.58" r="2.60" fill="#9010d0"/><circle cx="434.11" cy="405.78" r="0.90" fill="#e0a0ff"/>
<circle cx="457.63" cy="398.45" r="2.60" fill="#9010d0"/><circle cx="456.93" cy="397.65" r="0.90" fill="#e0a0ff"/>
<circle cx="480.45" cy="397.29" r="2.60" fill="#9010d0"/><circle cx="479.75" cy="396.49" r="0.90" fill="#e0a0ff"/>
<circle cx="503.27" cy="406.58" r="2.60" fill="#9010d0"/><circle cx="502.57" cy="405.78" r="0.90" fill="#e0a0ff"/>
<circle cx="526.09" cy="401.07" r="2.60" fill="#9010d0"/><circle cx="525.39" cy="400.27" r="0.90" fill="#e0a0ff"/>
<circle cx="537.50" cy="400.78" r="2.60" fill="#9010d0"/><circle cx="536.80" cy="399.98" r="0.90" fill="#e0a0ff"/>
<rect x="309.3" y="235.8" width="234.59999999999997" height="188.2" fill="none" stroke="#222222" stroke-width="1.3"/>
<path d="M309.30 424.00V427.60M315.00 424.00V425.90M320.71 424.00V427.60M326.42 424.00V425.90M332.12 424.00V427.60M337.82 424.00V425.90M343.53 424.00V427.60M349.24 424.00V425.90M354.94 424.00V427.60M360.64 424.00V425.90M366.35 424.00V427.60M372.06 424.00V425.90M377.76 424.00V427.60M383.46 424.00V425.90M389.17 424.00V427.60M394.88 424.00V425.90M400.58 424.00V427.60M406.29 424.00V425.90M411.99 424.00V427.60M417.69 424.00V425.90M423.40 424.00V427.60M429.10 424.00V425.90M434.81 424.00V427.60M440.51 424.00V425.90M446.22 424.00V427.60M451.93 424.00V425.90M457.63 424.00V427.60M463.33 424.00V425.90M469.04 424.00V427.60M474.75 424.00V425.90M480.45 424.00V427.60M486.16 424.00V425.90M491.86 424.00V427.60M497.56 424.00V425.90M503.27 424.00V427.60M508.97 424.00V425.90M514.68 424.00V427.60M520.39 424.00V425.90M526.09 424.00V427.60M531.80 424.00V425.90M537.50 424.00V427.60M309.30 424.00H305.70M309.30 413.84H307.40M309.30 403.68H305.70M309.30 393.52H307.40M309.30 383.36H305.70M309.30 373.20H307.40M309.30 363.04H305.70M309.30 352.88H307.40M309.30 342.72H305.70M309.30 332.56H307.40M309.30 322.40H305.70M309.30 312.24H307.40M309.30 302.07H305.70M309.30 291.91H307.40M309.30 281.75H305.70M309.30 271.59H307.40M309.30 261.43H305.70M309.30 251.27H307.40M309.30 241.11H305.70" stroke="#222222" stroke-width="1.25" fill="none"/>
<text x="302.70" y="427.10" font-size="8.8" text-anchor="end" >0.00</text>
<text x="302.70" y="406.78" font-size="8.8" text-anchor="end" >0.07</text>
<text x="302.70" y="386.46" font-size="8.8" text-anchor="end" >0.14</text>
<text x="302.70" y="366.14" font-size="8.8" text-anchor="end" >0.21</text>
<text x="302.70" y="345.82" font-size="8.8" text-anchor="end" >0.28</text>
<text x="302.70" y="325.50" font-size="8.8" text-anchor="end" >0.35</text>
<text x="302.70" y="305.17" font-size="8.8" text-anchor="end" >0.42</text>
<text x="302.70" y="284.85" font-size="8.8" text-anchor="end" >0.49</text>
<text x="302.70" y="264.53" font-size="8.8" text-anchor="end" >0.56</text>
<text x="302.70" y="244.21" font-size="8.8" text-anchor="end" >0.63</text>
<text transform="translate(312.30,430.00) rotate(-90) scale(0.93,1)" style="stroke-width:0.6px" font-size="9.1" text-anchor="end">0</text>
<text transform="translate(323.71,430.00) rotate(-90) scale(0.93,1)" style="stroke-width:0.6px" font-size="9.1" text-anchor="end">1750</text>
<text transform="translate(335.12,430.00) rotate(-90) scale(0.93,1)" style="stroke-width:0.6px" font-size="9.1" text-anchor="end">3500</text>
<text transform="translate(346.53,430.00) rotate(-90) scale(0.93,1)" style="stroke-width:0.6px" font-size="9.1" text-anchor="end">5250</text>
<text transform="translate(357.94,430.00) rotate(-90) scale(0.93,1)" style="stroke-width:0.6px" font-size="9.1" text-anchor="end">7000</text>
<text transform="translate(369.35,430.00) rotate(-90) scale(0.93,1)" style="stroke-width:0.6px" font-size="9.1" text-anchor="end">8750</text>
<text transform="translate(380.76,430.00) rotate(-90) scale(0.93,1)" style="stroke-width:0.6px" font-size="9.1" text-anchor="end">10500</text>
<text transform="translate(392.17,430.00) rotate(-90) scale(0.93,1)" style="stroke-width:0.6px" font-size="9.1" text-anchor="end">12250</text>
<text transform="translate(403.58,430.00) rotate(-90) scale(0.93,1)" style="stroke-width:0.6px" font-size="9.1" text-anchor="end">14000</text>
<text transform="translate(414.99,430.00) rotate(-90) scale(0.93,1)" style="stroke-width:0.6px" font-size="9.1" text-anchor="end">15750</text>
<text transform="translate(426.40,430.00) rotate(-90) scale(0.93,1)" style="stroke-width:0.6px" font-size="9.1" text-anchor="end">17500</text>
<text transform="translate(437.81,430.00) rotate(-90) scale(0.93,1)" style="stroke-width:0.6px" font-size="9.1" text-anchor="end">19250</text>
<text transform="translate(449.22,430.00) rotate(-90) scale(0.93,1)" style="stroke-width:0.6px" font-size="9.1" text-anchor="end">21000</text>
<text transform="translate(460.63,430.00) rotate(-90) scale(0.93,1)" style="stroke-width:0.6px" font-size="9.1" text-anchor="end">22750</text>
<text transform="translate(472.04,430.00) rotate(-90) scale(0.93,1)" style="stroke-width:0.6px" font-size="9.1" text-anchor="end">24500</text>
<text transform="translate(483.45,430.00) rotate(-90) scale(0.93,1)" style="stroke-width:0.6px" font-size="9.1" text-anchor="end">26250</text>
<text transform="translate(494.86,430.00) rotate(-90) scale(0.93,1)" style="stroke-width:0.6px" font-size="9.1" text-anchor="end">28000</text>
<text transform="translate(506.27,430.00) rotate(-90) scale(0.93,1)" style="stroke-width:0.6px" font-size="9.1" text-anchor="end">29750</text>
<text transform="translate(517.68,430.00) rotate(-90) scale(0.93,1)" style="stroke-width:0.6px" font-size="9.1" text-anchor="end">31500</text>
<text transform="translate(529.09,430.00) rotate(-90) scale(0.93,1)" style="stroke-width:0.6px" font-size="9.1" text-anchor="end">33250</text>
<text transform="translate(540.50,430.00) rotate(-90) scale(0.93,1)" style="stroke-width:0.6px" font-size="9.1" text-anchor="end">35000</text>
<rect x="313.4" y="239.9" width="165.60000000000002" height="27.900000000000006" fill="#ffffff" stroke="#a8a8a8" stroke-width="1"/>
<path d="M314.60 245.80H330.60" stroke="#ff0000" stroke-width="1.10"/>
<rect x="320.10" y="243.30" width="5.00" height="5.00" fill="#ff0000"/>
<text transform="translate(332.30,248.50) scale(0.88,1)" style="stroke-width:0.7px" font-size="8.0">SAC_D</text>
<path d="M356.20 245.80H372.20" stroke="#404040" stroke-width="1.10" stroke-dasharray="3.5 2"/>
<circle cx="364.20" cy="245.80" r="2.80" fill="#333333"/>
<text transform="translate(374.00,248.50) scale(0.88,1)" style="stroke-width:0.7px" font-size="8.0">SAC_B</text>
<path d="M395.20 245.80H411.20" stroke="#ff00ff" stroke-width="1.10" stroke-dasharray="1 2"/>
<path d="M403.20 242.30L406.70 248.43L399.70 248.43Z" fill="#ff00ff"/>
<text transform="translate(411.60,248.50) scale(0.88,1)" style="stroke-width:0.7px" font-size="8.0">SAC_C</text>
<path d="M433.30 245.80H449.30" stroke="#0000ff" stroke-width="1.10" stroke-dasharray="4 1.5 1 1.5"/>
<path d="M441.30 242.40L444.70 245.80L441.30 249.20L437.90 245.80Z" fill="#0000ff"/>
<text transform="translate(450.30,248.50) scale(0.88,1)" style="stroke-width:0.7px" font-size="8.0">SAC_CC</text>
<path d="M314.60 254.50H330.60" stroke="#44ee44" stroke-width="1.10" stroke-dasharray="2.2 1.6 0.8 1.6"/>
<circle cx="322.60" cy="254.50" r="2.80" fill="#33ee33"/>
<text transform="translate(332.30,257.20) scale(0.88,1)" style="stroke-width:0.7px" font-size="8.0">CN</text>
<path d="M356.20 254.50H372.20" stroke="#d4a020" stroke-width="1.10" stroke-dasharray="3.5 2.5"/>
<polygon points="364.20,251.20 365.02,253.37 367.34,253.48 365.53,254.93 366.14,257.17 364.20,255.90 362.26,257.17 362.87,254.93 361.06,253.48 363.38,253.37" fill="#cc9a1a"/>
<text transform="translate(374.00,257.20) scale(0.88,1)" style="stroke-width:0.7px" font-size="8.0">JC</text>
<path d="M395.20 254.50H411.20" stroke="#1ec0c8" stroke-width="1.10" stroke-dasharray="4 1.5 1 1.5"/>
<polygon points="403.20,251.70 405.62,253.10 405.62,255.90 403.20,257.30 400.78,255.90 400.78,253.10" fill="#18b8c0"/>
<text transform="translate(411.60,257.20) scale(0.88,1)" style="stroke-width:0.7px" font-size="8.0">AA</text>
<path d="M433.30 254.50H449.30" stroke="#a07878" stroke-width="1.10" stroke-dasharray="3.5 2.5"/>
<path d="M438.80 254.50H443.80M441.30 252.00V257.00" stroke="#a07878" stroke-width="0.7" fill="none"/>
<text transform="translate(450.30,257.20) scale(0.88,1)" style="stroke-width:0.7px" font-size="8.0">RA</text>
<path d="M314.60 263.30H330.60" stroke="#a0a030" stroke-width="1.21"/>
<path d="M319.50 260.82L325.70 265.78M319.50 265.78L325.70 260.82M319.50 263.30H325.70" stroke="#a0a030" stroke-width="0.6" fill="none" opacity="0.7"/>
<text transform="translate(332.30,266.00) scale(0.88,1)" style="stroke-width:0.7px" font-size="8.0">PA</text>
<path d="M356.20 263.30H372.20" stroke="#a020e0" stroke-width="1.10" stroke-dasharray="3.5 2"/>
<circle cx="364.20" cy="263.30" r="2.60" fill="#9010d0"/><circle cx="363.50" cy="262.50" r="0.90" fill="#e0a0ff"/>
<text transform="translate(374.00,266.00) scale(0.88,1)" style="stroke-width:0.7px" font-size="8.0">CCPA</text>
<text x="487.00" y="251.60" font-size="9.65" text-anchor="start" >bio-celegans</text>
<text transform="translate(384.20,466.70) scale(0.93,1)" font-size="11.5">top-k nodepairs</text>
</svg></body></html>
